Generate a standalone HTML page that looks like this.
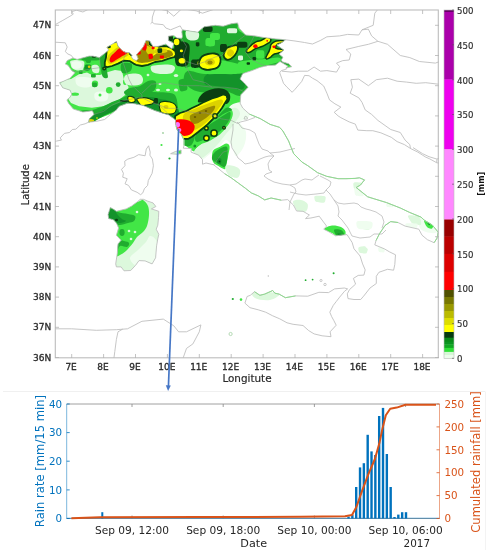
<!DOCTYPE html>
<html><head><meta charset="utf-8"><style>
html,body{margin:0;padding:0;background:#fff;width:500px;height:550px;overflow:hidden}
svg{display:block}
text{font-family:'DejaVu Sans', 'Liberation Sans', sans-serif}
</style></head><body>
<svg width="500" height="550" viewBox="0 0 500 550">
<defs><clipPath id="mc"><rect x="55" y="10" width="384" height="348"/></clipPath></defs>

<g clip-path="url(#mc)">
<defs><clipPath id="land"><path d="M88.6,122.2 L96.6,121.3 L104.6,119.5 L110.6,114.4 L116.4,109.9 L118.9,106.5 L127.5,103.2 L133.3,103.5 L139.3,104.7 L142.8,105.3 L148.3,107.7 L154.6,110.5 L162.0,112.9 L168.7,115.0 L175.4,119.8 L176.0,125.9 L177.0,129.5 L181.4,134.6 L184.0,140.1 L184.0,145.5 L183.3,148.2 L191.3,148.5 L191.0,152.1 L198.7,155.2 L202.5,159.7 L202.5,164.2 L206.0,163.0 L213.7,164.8 L224.5,173.6 L231.2,177.8 L238.5,183.2 L245.6,188.4 L251.3,192.9 L258.3,195.9 L264.7,199.9 L271.1,198.0 L281.3,200.2 L287.7,199.6 L293.4,205.0 L296.6,211.0 L303.0,211.3 L309.4,215.0 L305.5,218.6 L310.9,218.0 L319.2,216.2 L326.6,226.1 L323.7,229.2 L328.5,231.6 L335.5,235.8 L341.3,235.2 L347.0,234.6 L352.1,242.4 L354.0,248.8 L360.1,256.0 L362.6,263.9 L365.2,269.9 L363.9,275.1 L358.2,275.4 L353.4,278.4 L355.6,284.1 L349.5,289.6 L347.3,293.8 L348.0,298.6 L354.0,299.5 L360.7,299.5 L363.6,296.2 L370.0,288.0 L376.3,283.5 L376.3,276.3 L378.9,272.3 L387.5,269.3 L393.6,270.2 L394.8,264.5 L395.5,254.8 L389.4,251.8 L384.3,248.8 L374.8,244.9 L376.0,240.6 L379.5,233.7 L385.0,225.5 L390.7,221.6 L398.0,222.5 L405.1,226.1 L418.8,229.2 L422.0,235.2 L427.4,239.7 L434.1,242.7 L437.0,238.2 L438.2,232.2 L432.2,224.9 L424.2,220.1 L421.0,217.1 L409.8,212.5 L400.3,208.0 L386.6,202.6 L374.8,199.0 L367.7,196.8 L356.2,187.5 L360.4,185.1 L364.5,179.9 L359.4,177.8 L355.0,178.4 L346.0,178.7 L338.1,178.7 L326.6,176.3 L317.6,172.7 L307.8,165.7 L302.0,162.1 L293.7,153.7 L291.2,147.6 L288.6,141.0 L282.9,131.0 L279.7,127.4 L270.1,124.4 L260.2,118.6 L249.4,114.1 L242.7,108.0 L240.1,103.2 L240.8,94.8 L248.1,87.2 L244.0,82.7 L240.1,79.1 L242.7,73.6 L251.9,70.6 L259.3,67.6 L267.6,65.5 L275.2,65.2 L280.0,61.5 L287.7,66.1 L286.1,67.9 L288.0,67.6 L291.8,66.7 L288.6,63.7 L282.2,61.8 L281.3,60.0 L282.9,57.3 L279.1,54.0 L283.8,50.1 L276.8,44.9 L280.6,43.4 L285.7,39.8 L275.9,38.9 L263.1,37.4 L255.1,35.9 L245.6,35.0 L239.2,28.3 L237.6,22.9 L231.2,23.8 L223.2,26.2 L215.2,25.3 L204.1,26.8 L197.7,32.2 L191.3,31.3 L184.0,30.1 L182.4,29.8 L181.8,31.9 L182.4,36.5 L181.8,38.3 L177.0,38.0 L173.8,35.6 L168.4,36.2 L168.4,40.4 L173.8,43.4 L172.2,48.6 L170.6,47.9 L165.8,44.0 L157.8,46.4 L153.0,46.4 L149.9,41.0 L146.0,40.4 L143.5,46.4 L140.3,50.4 L136.5,54.6 L138.1,58.5 L136.5,60.6 L133.3,59.4 L131.0,56.4 L132.3,55.5 L129.1,52.5 L126.2,52.5 L122.7,51.0 L118.3,46.4 L116.4,41.6 L112.5,44.0 L106.8,47.3 L108.7,50.1 L104.6,53.4 L99.5,57.6 L92.8,56.1 L89.2,56.1 L77.1,59.4 L73.0,57.9 L67.2,60.6 L65.3,64.0 L67.9,65.2 L71.7,70.6 L74.9,72.7 L70.1,78.2 L63.7,81.2 L59.6,82.7 L62.8,87.8 L70.1,90.2 L71.7,94.2 L70.1,97.2 L66.9,99.9 L68.5,103.2 L73.3,109.0 L82.9,112.0 L92.4,110.8 L94.0,114.4 L89.2,118.9 L88.6,122.2 Z M140.3,199.3 L143.5,199.3 L147.6,201.1 L153.0,202.9 L155.9,206.5 L151.4,208.9 L158.8,211.3 L158.5,217.7 L157.8,225.2 L156.2,229.2 L158.8,234.3 L157.8,238.8 L156.6,245.8 L155.6,257.8 L152.1,263.9 L145.1,260.9 L139.0,260.6 L135.5,265.4 L130.7,270.5 L124.0,270.8 L121.1,266.9 L116.4,266.9 L115.7,263.9 L117.3,253.3 L118.0,243.9 L121.1,240.3 L116.4,235.2 L118.6,227.9 L116.4,223.1 L113.5,219.8 L108.7,218.6 L108.1,214.4 L110.3,207.4 L113.8,209.5 L116.4,211.3 L126.2,208.9 L131.4,206.2 L137.1,202.0 L140.3,199.3 Z M347.6,288.9 L344.4,288.0 L334.6,288.9 L328.5,292.6 L318.9,292.3 L307.8,296.2 L295.6,295.9 L285.4,297.7 L279.1,294.1 L274.9,293.2 L272.7,290.5 L264.7,294.1 L259.9,295.3 L254.5,291.7 L250.3,295.3 L247.1,296.5 L244.9,303.1 L250.0,307.7 L258.3,309.8 L265.7,312.2 L272.7,315.8 L279.7,318.8 L287.0,322.8 L293.1,324.3 L303.0,325.5 L308.7,330.6 L314.1,333.9 L322.1,335.8 L331.0,336.7 L330.1,331.8 L336.2,325.2 L333.9,320.7 L331.7,316.7 L329.8,312.2 L333.3,305.3 L336.2,301.6 L339.7,297.1 L344.4,291.4 L347.6,288.9 Z M170.6,153.7 L175.4,151.5 L181.1,150.0 L181.1,153.7 L177.0,154.3 L170.6,153.7 Z"/></clipPath></defs><g clip-path="url(#land)"><path d="M50.00,10.00 C91.67,-9.17 258.33,0.00 300.00,10.00 C341.67,20.00 306.33,59.67 300.00,70.00 C293.67,80.33 270.00,70.67 262.00,72.00 C254.00,73.33 254.00,75.00 252.00,78.00 C250.00,81.00 250.67,86.33 250.00,90.00 C249.33,93.67 249.67,97.67 248.00,100.00 C246.33,102.33 242.33,102.00 240.00,104.00 C237.67,106.00 234.67,109.00 234.00,112.00 C233.33,115.00 237.00,118.67 236.00,122.00 C235.00,125.33 230.67,129.00 228.00,132.00 C225.33,135.00 223.33,137.33 220.00,140.00 C216.67,142.67 212.00,146.00 208.00,148.00 C204.00,150.00 199.67,152.33 196.00,152.00 C192.33,151.67 189.00,148.33 186.00,146.00 C183.00,143.67 180.67,141.50 178.00,138.00 C175.33,134.50 174.67,128.00 170.00,125.00 C165.33,122.00 158.33,122.17 150.00,120.00 C141.67,117.83 131.67,111.17 120.00,112.00 C108.33,112.83 91.67,122.83 80.00,125.00 C68.33,127.17 55.00,144.17 50.00,125.00 C45.00,105.83 8.33,29.17 50.00,10.00 Z" fill="#42e646"/><path d="M233.00,104.00 C236.00,102.67 243.17,101.00 246.00,102.00 C248.83,103.00 249.67,107.33 250.00,110.00 C250.33,112.67 249.67,116.00 248.00,118.00 C246.33,120.00 240.33,119.67 240.00,122.00 C239.67,124.33 245.33,128.00 246.00,132.00 C246.67,136.00 245.67,142.00 244.00,146.00 C242.33,150.00 238.00,156.00 236.00,156.00 C234.00,156.00 233.67,148.67 232.00,146.00 C230.33,143.33 228.00,140.00 226.00,140.00 C224.00,140.00 222.67,143.67 220.00,146.00 C217.33,148.33 213.00,151.67 210.00,154.00 C207.00,156.33 204.33,159.33 202.00,160.00 C199.67,160.67 197.33,159.33 196.00,158.00 C194.67,156.67 193.33,154.17 194.00,152.00 C194.67,149.83 197.33,147.17 200.00,145.00 C202.67,142.83 206.83,141.00 210.00,139.00 C213.17,137.00 216.33,135.33 219.00,133.00 C221.67,130.67 224.00,127.67 226.00,125.00 C228.00,122.33 230.67,119.50 231.00,117.00 C231.33,114.50 227.67,112.17 228.00,110.00 C228.33,107.83 230.00,105.33 233.00,104.00 Z" fill="#effdef"/><path d="M228.00,110.00 C228.83,108.50 234.00,107.33 236.00,108.00 C238.00,108.67 240.33,111.33 240.00,114.00 C239.67,116.67 236.33,120.67 234.00,124.00 C231.67,127.33 228.67,130.67 226.00,134.00 C223.33,137.33 220.67,141.00 218.00,144.00 C215.33,147.00 212.67,149.67 210.00,152.00 C207.33,154.33 204.33,157.00 202.00,158.00 C199.67,159.00 197.33,159.00 196.00,158.00 C194.67,157.00 193.33,154.17 194.00,152.00 C194.67,149.83 197.33,147.17 200.00,145.00 C202.67,142.83 206.83,141.00 210.00,139.00 C213.17,137.00 216.33,135.33 219.00,133.00 C221.67,130.67 224.00,127.67 226.00,125.00 C228.00,122.33 230.67,119.50 231.00,117.00 C231.33,114.50 227.17,111.50 228.00,110.00 Z" fill="#dcf8dc"/><path d="M196.00,129.20 C197.60,127.07 200.80,127.60 204.00,126.00 C207.20,124.40 211.73,121.73 215.20,119.60 C218.67,117.47 222.13,114.80 224.80,113.20 C227.47,111.60 229.87,109.73 231.20,110.00 C232.53,110.27 233.07,112.67 232.80,114.80 C232.53,116.93 230.93,120.40 229.60,122.80 C228.27,125.20 226.67,127.07 224.80,129.20 C222.93,131.33 220.80,133.73 218.40,135.60 C216.00,137.47 213.07,139.07 210.40,140.40 C207.73,141.73 204.80,142.40 202.40,143.60 C200.00,144.80 197.60,146.80 196.00,147.60 C194.40,148.40 193.60,148.80 192.80,148.40 C192.00,148.00 190.93,146.80 191.20,145.20 C191.47,143.60 193.60,141.47 194.40,138.80 C195.20,136.13 194.40,131.33 196.00,129.20 Z" fill="#42e646"/><path d="M198.00,130.00 C199.67,128.17 202.17,128.50 205.00,127.00 C207.83,125.50 211.83,123.00 215.00,121.00 C218.17,119.00 221.50,116.50 224.00,115.00 C226.50,113.50 229.00,111.50 230.00,112.00 C231.00,112.50 230.67,115.83 230.00,118.00 C229.33,120.17 227.83,122.67 226.00,125.00 C224.17,127.33 221.50,130.00 219.00,132.00 C216.50,134.00 213.67,135.67 211.00,137.00 C208.33,138.33 205.33,139.17 203.00,140.00 C200.67,140.83 198.33,142.33 197.00,142.00 C195.67,141.67 194.83,140.00 195.00,138.00 C195.17,136.00 196.33,131.83 198.00,130.00 Z" fill="#20ac2f"/><ellipse cx="194.8" cy="146" rx="1.4" ry="1.6" fill="#13922a"/><path d="M213.60,150.00 C214.93,148.40 217.87,147.87 220.00,146.80 C222.13,145.73 224.80,143.60 226.40,143.60 C228.00,143.60 229.33,144.67 229.60,146.80 C229.87,148.93 228.53,153.47 228.00,156.40 C227.47,159.33 226.93,162.27 226.40,164.40 C225.87,166.53 226.13,168.93 224.80,169.20 C223.47,169.47 220.27,167.07 218.40,166.00 C216.53,164.93 214.67,164.40 213.60,162.80 C212.53,161.20 212.00,158.53 212.00,156.40 C212.00,154.27 212.27,151.60 213.60,150.00 Z" fill="#42e646"/><path d="M214.00,153.00 C215.50,151.17 218.83,149.00 221.00,148.00 C223.17,147.00 225.92,145.83 227.00,147.00 C228.08,148.17 227.58,152.33 227.50,155.00 C227.42,157.67 227.08,161.00 226.50,163.00 C225.92,165.00 225.58,167.00 224.00,167.00 C222.42,167.00 219.00,164.33 217.00,163.00 C215.00,161.67 212.50,160.67 212.00,159.00 C211.50,157.33 212.50,154.83 214.00,153.00 Z" fill="#20ac2f"/><path d="M217.16,158.48 C217.54,158.06 218.52,158.18 219.20,158.25 C219.88,158.32 220.89,158.37 221.24,158.91 C221.59,159.44 221.39,160.61 221.30,161.45 C221.22,162.29 221.11,163.50 220.73,163.92 C220.35,164.34 219.57,164.08 219.00,163.95 C218.43,163.82 217.68,163.69 217.33,163.16 C216.98,162.62 216.93,161.53 216.90,160.75 C216.87,159.97 216.78,158.90 217.16,158.48 Z" fill="#13922a"/><ellipse cx="219.5" cy="161.5" rx="0.9" ry="0.9" fill="#0a3f12"/><path d="M70.60,61.00 C71.67,60.33 74.80,59.92 77.00,60.00 C79.20,60.08 82.63,60.50 83.80,61.50 C84.97,62.50 84.22,64.58 84.00,66.00 C83.78,67.42 83.67,69.27 82.50,70.00 C81.33,70.73 78.75,70.73 77.00,70.40 C75.25,70.07 73.07,69.07 72.00,68.00 C70.93,66.93 70.83,65.17 70.60,64.00 C70.37,62.83 69.53,61.67 70.60,61.00 Z" fill="#dcf8dc"/><path d="M92.00,65.60 C92.83,64.77 95.77,64.60 97.00,65.00 C98.23,65.40 99.15,66.70 99.40,68.00 C99.65,69.30 99.40,72.00 98.50,72.80 C97.60,73.60 95.08,73.27 94.00,72.80 C92.92,72.33 92.33,71.20 92.00,70.00 C91.67,68.80 91.17,66.43 92.00,65.60 Z" fill="#dcf8dc"/><path d="M59.8,83.8 L64,80 L71,79 L79,74.2 L87,72.6 L92,75 L100,75 L108,72 L115,70 L122,71 L123.8,79 L128.6,87 L127,93.4 L119,99.8 L111,103 L103,106.2 L91.8,107.8 L79,106.2 L71,103 L67.8,98.2 L69.4,93.4 L64.6,90.2 Z" fill="#dcf8dc"/><path d="M151.00,66.50 C152.00,65.42 155.50,65.33 158.00,65.00 C160.50,64.67 163.50,64.42 166.00,64.50 C168.50,64.58 171.50,64.83 173.00,65.50 C174.50,66.17 175.17,67.25 175.00,68.50 C174.83,69.75 173.67,72.08 172.00,73.00 C170.33,73.92 167.50,73.92 165.00,74.00 C162.50,74.08 159.17,73.92 157.00,73.50 C154.83,73.08 153.00,72.67 152.00,71.50 C151.00,70.33 150.00,67.58 151.00,66.50 Z" fill="#dcf8dc"/><ellipse cx="176" cy="75.5" rx="2.2" ry="1.6" fill="#dcf8dc"/><ellipse cx="148" cy="75" rx="1.4" ry="1.2" fill="#dcf8dc"/><path d="M95.00,93.00 C96.17,91.75 99.83,91.42 102.00,91.50 C104.17,91.58 107.17,92.08 108.00,93.50 C108.83,94.92 108.33,98.67 107.00,100.00 C105.67,101.33 102.00,101.67 100.00,101.50 C98.00,101.33 95.83,100.42 95.00,99.00 C94.17,97.58 93.83,94.25 95.00,93.00 Z" fill="#effdef"/><path d="M76.00,78.00 C77.17,76.67 81.33,76.83 84.00,77.00 C86.67,77.17 90.83,77.50 92.00,79.00 C93.17,80.50 92.33,84.58 91.00,86.00 C89.67,87.42 86.33,87.67 84.00,87.50 C81.67,87.33 78.33,86.58 77.00,85.00 C75.67,83.42 74.83,79.33 76.00,78.00 Z" fill="#effdef"/><path d="M72.00,62.00 C73.00,60.92 77.33,61.00 79.00,61.50 C80.67,62.00 82.00,63.83 82.00,65.00 C82.00,66.17 80.50,68.00 79.00,68.50 C77.50,69.00 74.17,69.08 73.00,68.00 C71.83,66.92 71.00,63.08 72.00,62.00 Z" fill="#effdef"/><ellipse cx="95" cy="83.8" rx="3.2" ry="3.2" fill="#42e646"/><ellipse cx="75" cy="94.2" rx="4" ry="1.6" fill="#42e646"/><ellipse cx="81" cy="72" rx="1.8" ry="1.6" fill="#42e646"/><ellipse cx="109.3" cy="90.2" rx="3.3" ry="3.2" fill="#42e646"/><ellipse cx="100" cy="95" rx="1.5" ry="1.5" fill="#42e646"/><ellipse cx="66" cy="98" rx="2" ry="2" fill="#42e646"/><ellipse cx="125" cy="82" rx="2" ry="3" fill="#42e646"/><ellipse cx="118.2" cy="84.6" rx="2.4" ry="2.4" fill="#20ac2f"/><ellipse cx="87" cy="68.6" rx="3.2" ry="2.4" fill="#20ac2f"/><path d="M80.00,57.50 C80.67,56.75 85.33,56.42 88.00,56.00 C90.67,55.58 93.50,55.42 96.00,55.00 C98.50,54.58 101.33,53.17 103.00,53.50 C104.67,53.83 106.50,55.92 106.00,57.00 C105.50,58.08 102.33,59.42 100.00,60.00 C97.67,60.58 94.67,60.42 92.00,60.50 C89.33,60.58 86.00,61.00 84.00,60.50 C82.00,60.00 79.33,58.25 80.00,57.50 Z" fill="#20ac2f"/><ellipse cx="94" cy="56.5" rx="2.5" ry="1.2" fill="#0a3f12"/><path d="M85.45,57.45 C85.87,56.95 87.15,57.00 88.00,57.00 C88.85,57.00 90.05,56.95 90.55,57.45 C91.05,57.95 91.00,59.15 91.00,60.00 C91.00,60.85 90.97,62.05 90.55,62.55 C90.13,63.05 89.21,63.00 88.50,63.00 C87.79,63.00 86.80,63.05 86.30,62.55 C85.80,62.05 85.64,60.85 85.50,60.00 C85.36,59.15 85.03,57.95 85.45,57.45 Z" fill="#20ac2f"/><path d="M100.60,54.00 C101.60,52.33 104.80,51.00 106.00,52.00 C107.20,53.00 107.63,57.00 107.80,60.00 C107.97,63.00 107.00,67.07 107.00,70.00 C107.00,72.93 108.47,76.43 107.80,77.60 C107.13,78.77 104.13,78.27 103.00,77.00 C101.87,75.73 101.50,72.50 101.00,70.00 C100.50,67.50 100.07,64.67 100.00,62.00 C99.93,59.33 99.60,55.67 100.60,54.00 Z" fill="#20ac2f"/><path d="M91.36,74.27 C91.76,73.97 92.72,74.00 93.40,74.00 C94.08,74.00 95.04,73.97 95.44,74.27 C95.84,74.57 95.80,75.29 95.80,75.80 C95.80,76.31 95.84,77.03 95.44,77.33 C95.04,77.63 94.08,77.60 93.40,77.60 C92.72,77.60 91.76,77.63 91.36,77.33 C90.96,77.03 91.00,76.31 91.00,75.80 C91.00,75.29 90.96,74.57 91.36,74.27 Z" fill="#20ac2f"/><path d="M79.27,70.67 C79.57,70.37 80.29,70.40 80.80,70.40 C81.31,70.40 82.03,70.37 82.33,70.67 C82.63,70.97 82.60,71.69 82.60,72.20 C82.60,72.71 82.63,73.43 82.33,73.73 C82.03,74.03 81.31,74.00 80.80,74.00 C80.29,74.00 79.57,74.03 79.27,73.73 C78.97,73.43 79.00,72.71 79.00,72.20 C79.00,71.69 78.97,70.97 79.27,70.67 Z" fill="#20ac2f"/><path d="M92.56,82.76 C92.96,82.36 93.92,82.40 94.60,82.40 C95.28,82.40 96.24,82.36 96.64,82.76 C97.04,83.16 97.00,84.12 97.00,84.80 C97.00,85.48 97.04,86.44 96.64,86.84 C96.24,87.24 95.28,87.20 94.60,87.20 C93.92,87.20 92.96,87.24 92.56,86.84 C92.16,86.44 92.20,85.48 92.20,84.80 C92.20,84.12 92.16,83.16 92.56,82.76 Z" fill="#20ac2f"/><path d="M121.60,63.60 C123.20,62.20 129.60,62.53 131.20,63.60 C132.80,64.67 132.07,68.40 131.20,70.00 C130.33,71.60 127.60,72.87 126.00,73.20 C124.40,73.53 122.33,73.60 121.60,72.00 C120.87,70.40 120.00,65.00 121.60,63.60 Z" fill="#20ac2f"/><path d="M85.45,64.76 C85.95,64.36 87.15,64.40 88.00,64.40 C88.85,64.40 90.05,64.36 90.55,64.76 C91.05,65.16 91.00,66.12 91.00,66.80 C91.00,67.48 91.05,68.44 90.55,68.84 C90.05,69.24 88.85,69.20 88.00,69.20 C87.15,69.20 85.95,69.24 85.45,68.84 C84.95,68.44 85.00,67.48 85.00,66.80 C85.00,66.12 84.95,65.16 85.45,64.76 Z" fill="#13922a"/><ellipse cx="89.2" cy="66.8" rx="1.4" ry="1.2" fill="#dcd200"/><path d="M80.00,112.00 C81.33,109.33 88.00,111.00 92.00,110.00 C96.00,109.00 100.67,107.33 104.00,106.00 C107.33,104.67 109.33,103.17 112.00,102.00 C114.67,100.83 117.33,100.17 120.00,99.00 C122.67,97.83 125.33,96.08 128.00,95.00 C130.67,93.92 132.33,93.00 136.00,92.50 C139.67,92.00 144.33,91.92 150.00,92.00 C155.67,92.08 165.67,92.17 170.00,93.00 C174.33,93.83 174.67,94.17 176.00,97.00 C177.33,99.83 177.67,105.33 178.00,110.00 C178.33,114.67 181.00,123.67 178.00,125.00 C175.00,126.33 169.67,120.50 160.00,118.00 C150.33,115.50 132.67,108.67 120.00,110.00 C107.33,111.33 90.67,125.67 84.00,126.00 C77.33,126.33 78.67,114.67 80.00,112.00 Z" fill="#20ac2f"/><path d="M84.00,122.00 C85.33,120.33 88.67,118.00 92.00,116.00 C95.33,114.00 100.33,111.83 104.00,110.00 C107.67,108.17 110.67,106.50 114.00,105.00 C117.33,103.50 120.33,102.17 124.00,101.00 C127.67,99.83 131.67,98.67 136.00,98.00 C140.33,97.33 146.00,96.83 150.00,97.00 C154.00,97.17 156.67,98.33 160.00,99.00 C163.33,99.67 167.00,99.50 170.00,101.00 C173.00,102.50 176.67,104.00 178.00,108.00 C179.33,112.00 181.00,123.33 178.00,125.00 C175.00,126.67 169.67,120.50 160.00,118.00 C150.33,115.50 132.67,108.67 120.00,110.00 C107.33,111.33 90.00,124.00 84.00,126.00 C78.00,128.00 82.67,123.67 84.00,122.00 Z" fill="#13922a"/><path d="M120.60,100.15 C121.27,99.98 122.87,100.00 124.00,100.00 C125.13,100.00 126.73,99.98 127.40,100.15 C128.07,100.32 128.00,100.72 128.00,101.00 C128.00,101.28 128.07,101.68 127.40,101.85 C126.73,102.02 125.13,102.00 124.00,102.00 C122.87,102.00 121.27,102.02 120.60,101.85 C119.93,101.68 120.00,101.28 120.00,101.00 C120.00,100.72 119.93,100.32 120.60,100.15 Z" fill="#0a3f12"/><path d="M154.30,98.45 C154.63,97.95 155.43,98.00 156.00,98.00 C156.57,98.00 157.37,97.95 157.70,98.45 C158.03,98.95 158.00,100.15 158.00,101.00 C158.00,101.85 158.03,103.05 157.70,103.55 C157.37,104.05 156.57,104.00 156.00,104.00 C155.43,104.00 154.63,104.05 154.30,103.55 C153.97,103.05 154.00,101.85 154.00,101.00 C154.00,100.15 153.97,98.95 154.30,98.45 Z" fill="#0a3f12"/><path d="M186.00,72.00 C187.83,70.25 191.00,69.92 195.00,69.50 C199.00,69.08 204.50,69.42 210.00,69.50 C215.50,69.58 223.00,69.75 228.00,70.00 C233.00,70.25 237.00,70.33 240.00,71.00 C243.00,71.67 244.67,70.83 246.00,74.00 C247.33,77.17 249.00,86.33 248.00,90.00 C247.00,93.67 243.33,95.67 240.00,96.00 C236.67,96.33 232.17,92.67 228.00,92.00 C223.83,91.33 219.67,92.00 215.00,92.00 C210.33,92.00 204.17,92.67 200.00,92.00 C195.83,91.33 192.67,90.00 190.00,88.00 C187.33,86.00 184.67,82.67 184.00,80.00 C183.33,77.33 184.17,73.75 186.00,72.00 Z" fill="#20ac2f"/><path d="M205.00,76.00 C207.00,73.83 211.00,71.83 217.00,71.00 C223.00,70.17 236.50,68.17 241.00,71.00 C245.50,73.83 245.83,85.17 244.00,88.00 C242.17,90.83 234.83,88.33 230.00,88.00 C225.17,87.67 219.17,86.67 215.00,86.00 C210.83,85.33 206.67,85.67 205.00,84.00 C203.33,82.33 203.00,78.17 205.00,76.00 Z" fill="#13922a"/><path d="M130.00,88.00 C132.67,87.00 137.00,87.17 140.00,86.00 C143.00,84.83 145.47,81.83 148.00,81.00 C150.53,80.17 153.87,80.00 155.20,81.00 C156.53,82.00 156.53,85.17 156.00,87.00 C155.47,88.83 154.67,90.67 152.00,92.00 C149.33,93.33 144.00,94.33 140.00,95.00 C136.00,95.67 130.67,96.50 128.00,96.00 C125.33,95.50 123.67,93.33 124.00,92.00 C124.33,90.67 127.33,89.00 130.00,88.00 Z" fill="#20ac2f"/><path d="M126.00,75.00 C127.50,74.08 130.67,73.58 133.00,73.50 C135.33,73.42 138.33,73.58 140.00,74.50 C141.67,75.42 142.83,77.42 143.00,79.00 C143.17,80.58 142.67,82.92 141.00,84.00 C139.33,85.08 135.50,85.50 133.00,85.50 C130.50,85.50 127.50,85.08 126.00,84.00 C124.50,82.92 124.00,80.50 124.00,79.00 C124.00,77.50 124.50,75.92 126.00,75.00 Z" fill="#dcf8dc"/><path d="M178.75,80.75 C179.25,79.58 180.87,79.28 182.00,79.00 C183.13,78.72 184.72,78.22 185.55,79.05 C186.38,79.88 186.72,82.30 187.00,84.00 C187.28,85.70 187.75,88.08 187.25,89.25 C186.75,90.42 185.13,90.72 184.00,91.00 C182.87,91.28 181.28,91.78 180.45,90.95 C179.62,90.12 179.28,87.70 179.00,86.00 C178.72,84.30 178.25,81.92 178.75,80.75 Z" fill="#20ac2f"/><ellipse cx="158" cy="90" rx="2" ry="1.2" fill="#dcf8dc"/><ellipse cx="168" cy="90" rx="2" ry="1.2" fill="#dcf8dc"/><ellipse cx="160" cy="84" rx="1.5" ry="1" fill="#dcf8dc"/><ellipse cx="176" cy="90" rx="2" ry="1.5" fill="#dcf8dc"/><path d="M180,29.6 L186,29 L195,30.8 L200.6,28.4 L205.4,26 L211.4,24.8 L220.2,24 L235.5,22.3 L238,24 L237.2,28.2 L239.8,31.6 L245.7,35 L257.6,36.7 L266,37.6 L276.3,38.4 L283,39.3 L290,50 L292,66 L280,64 L268,65.6 L259,67.3 L252,69 L244,70 L236,68 L225,66 L215,72 L205,72 L195,70 L186,68 L180,64 L176,56 L178,45 L176,36 Z" fill="#20ac2f"/><path d="M185.99,31.43 C187.01,30.75 189.73,30.87 191.60,30.90 C193.47,30.93 196.13,30.90 197.21,31.60 C198.29,32.30 198.13,33.94 198.10,35.10 C198.07,36.26 198.06,37.89 197.04,38.57 C196.02,39.25 193.70,39.20 192.00,39.20 C190.30,39.20 187.92,39.27 186.84,38.57 C185.76,37.87 185.64,36.19 185.50,35.00 C185.36,33.81 184.97,32.11 185.99,31.43 Z" fill="#42e646"/><path d="M186.00,31.00 C187.00,29.67 190.87,30.17 193.00,30.50 C195.13,30.83 197.97,31.58 198.80,33.00 C199.63,34.42 199.13,37.73 198.00,39.00 C196.87,40.27 193.83,40.68 192.00,40.60 C190.17,40.52 188.00,40.10 187.00,38.50 C186.00,36.90 185.00,32.33 186.00,31.00 Z" fill="#dcf8dc"/><path d="M206.12,38.63 C206.92,37.93 208.84,38.00 210.20,38.00 C211.56,38.00 213.48,37.93 214.28,38.63 C215.08,39.33 215.00,41.01 215.00,42.20 C215.00,43.39 215.08,45.07 214.28,45.77 C213.48,46.47 211.56,46.40 210.20,46.40 C208.84,46.40 206.92,46.47 206.12,45.77 C205.32,45.07 205.40,43.39 205.40,42.20 C205.40,41.01 205.32,39.33 206.12,38.63 Z" fill="#42e646"/><path d="M210.75,33.52 C211.58,32.94 213.58,33.00 215.00,33.00 C216.42,33.00 218.42,32.94 219.25,33.52 C220.08,34.11 220.00,35.51 220.00,36.50 C220.00,37.49 220.08,38.89 219.25,39.48 C218.42,40.06 216.42,40.00 215.00,40.00 C213.58,40.00 211.58,40.06 210.75,39.48 C209.92,38.89 210.00,37.49 210.00,36.50 C210.00,35.51 209.92,34.11 210.75,33.52 Z" fill="#42e646"/><path d="M227.76,28.58 C228.61,28.16 230.66,28.20 232.10,28.20 C233.54,28.20 235.59,28.16 236.44,28.58 C237.28,29.01 237.20,30.03 237.20,30.75 C237.20,31.47 237.28,32.49 236.44,32.92 C235.59,33.34 233.54,33.30 232.10,33.30 C230.66,33.30 228.61,33.34 227.76,32.92 C226.91,32.49 227.00,31.47 227.00,30.75 C227.00,30.03 226.91,29.01 227.76,28.58 Z" fill="#dcf8dc"/><path d="M238.38,55.78 C238.79,55.36 239.79,55.40 240.50,55.40 C241.21,55.40 242.21,55.36 242.62,55.78 C243.04,56.21 243.00,57.23 243.00,57.95 C243.00,58.67 243.04,59.69 242.62,60.12 C242.21,60.54 241.21,60.50 240.50,60.50 C239.79,60.50 238.79,60.54 238.38,60.12 C237.96,59.69 238.00,58.67 238.00,57.95 C238.00,57.23 237.96,56.21 238.38,55.78 Z" fill="#dcf8dc"/><path d="M256.63,50.94 C257.33,50.23 259.01,50.30 260.20,50.30 C261.39,50.30 263.07,50.23 263.77,50.94 C264.47,51.65 264.40,53.35 264.40,54.55 C264.40,55.75 264.47,57.45 263.77,58.16 C263.07,58.87 261.39,58.80 260.20,58.80 C259.01,58.80 257.33,58.87 256.63,58.16 C255.93,57.45 256.00,55.75 256.00,54.55 C256.00,53.35 255.93,51.65 256.63,50.94 Z" fill="#42e646"/><path d="M216.80,60.50 C224.13,59.50 225.47,61.08 230.00,62.00 C234.53,62.92 241.33,64.33 244.00,66.00 C246.67,67.67 247.33,70.67 246.00,72.00 C244.67,73.33 240.33,73.67 236.00,74.00 C231.67,74.33 225.17,74.00 220.00,74.00 C214.83,74.00 209.17,74.33 205.00,74.00 C200.83,73.67 198.17,73.00 195.00,72.00 C191.83,71.00 182.37,69.92 186.00,68.00 C189.63,66.08 209.47,61.50 216.80,60.50 Z" fill="#42e646"/><path d="M238.00,63.00 C239.33,61.00 245.50,60.67 250.00,60.00 C254.50,59.33 260.33,59.42 265.00,59.00 C269.67,58.58 275.33,57.17 278.00,57.50 C280.67,57.83 282.67,59.75 281.00,61.00 C279.33,62.25 272.83,63.58 268.00,65.00 C263.17,66.42 256.33,68.33 252.00,69.50 C247.67,70.67 244.33,73.08 242.00,72.00 C239.67,70.92 236.67,65.00 238.00,63.00 Z" fill="#42e646"/><path d="M203.72,26.45 C204.52,25.95 206.44,26.00 207.80,26.00 C209.16,26.00 211.08,25.95 211.88,26.45 C212.68,26.95 212.60,28.15 212.60,29.00 C212.60,29.85 212.68,31.05 211.88,31.55 C211.08,32.05 209.16,32.00 207.80,32.00 C206.44,32.00 204.52,32.05 203.72,31.55 C202.92,31.05 203.00,29.85 203.00,29.00 C203.00,28.15 202.92,26.95 203.72,26.45 Z" fill="#0a3f12"/><path d="M196.07,42.52 C196.37,42.16 197.09,42.20 197.60,42.20 C198.11,42.20 198.83,42.16 199.13,42.52 C199.43,42.87 199.40,43.70 199.40,44.30 C199.40,44.89 199.43,45.73 199.13,46.09 C198.83,46.44 198.11,46.40 197.60,46.40 C197.09,46.40 196.37,46.44 196.07,46.09 C195.77,45.73 195.80,44.89 195.80,44.30 C195.80,43.70 195.77,42.87 196.07,42.52 Z" fill="#0a3f12"/><path d="M220.53,44.60 C221.11,43.93 222.51,44.00 223.50,44.00 C224.49,44.00 225.89,43.93 226.47,44.60 C227.06,45.27 227.00,46.87 227.00,48.00 C227.00,49.13 227.06,50.73 226.47,51.40 C225.89,52.07 224.49,52.00 223.50,52.00 C222.51,52.00 221.11,52.07 220.53,51.40 C219.94,50.73 220.00,49.13 220.00,48.00 C220.00,46.87 219.94,45.27 220.53,44.60 Z" fill="#0a3f12"/><path d="M237.78,42.25 C238.65,41.75 240.73,41.80 242.20,41.80 C243.67,41.80 245.75,41.75 246.62,42.25 C247.49,42.75 247.40,43.95 247.40,44.80 C247.40,45.65 247.49,46.85 246.62,47.35 C245.75,47.85 243.67,47.80 242.20,47.80 C240.73,47.80 238.65,47.85 237.78,47.35 C236.91,46.85 237.00,45.65 237.00,44.80 C237.00,43.95 236.91,42.75 237.78,42.25 Z" fill="#0a3f12"/><path d="M252.76,57.26 C253.05,56.97 253.75,57.00 254.25,57.00 C254.75,57.00 255.45,56.97 255.74,57.26 C256.03,57.55 256.00,58.25 256.00,58.75 C256.00,59.25 256.03,59.95 255.74,60.24 C255.45,60.53 254.75,60.50 254.25,60.50 C253.75,60.50 253.05,60.53 252.76,60.24 C252.47,59.95 252.50,59.25 252.50,58.75 C252.50,58.25 252.47,57.55 252.76,57.26 Z" fill="#0a3f12"/><path d="M246.85,62.40 C247.14,62.18 247.82,62.20 248.30,62.20 C248.78,62.20 249.46,62.18 249.75,62.40 C250.03,62.61 250.00,63.13 250.00,63.50 C250.00,63.87 250.03,64.39 249.75,64.61 C249.46,64.82 248.78,64.80 248.30,64.80 C247.82,64.80 247.14,64.82 246.85,64.61 C246.57,64.39 246.60,63.87 246.60,63.50 C246.60,63.13 246.57,62.61 246.85,62.40 Z" fill="#0a3f12"/><path d="M166.53,34.57 C167.11,33.94 168.51,34.00 169.50,34.00 C170.49,34.00 171.89,33.94 172.47,34.57 C173.06,35.20 173.00,36.72 173.00,37.80 C173.00,38.88 173.06,40.40 172.47,41.03 C171.89,41.66 170.49,41.60 169.50,41.60 C168.51,41.60 167.11,41.66 166.53,41.03 C165.94,40.40 166.00,38.88 166.00,37.80 C166.00,36.72 165.94,35.20 166.53,34.57 Z" fill="#0a3f12"/><path d="M175.40,42.80 C177.67,40.13 186.33,41.47 188.60,44.00 C190.87,46.53 189.27,54.40 189.00,58.00 C188.73,61.60 188.83,64.27 187.00,65.60 C185.17,66.93 180.00,66.93 178.00,66.00 C176.00,65.07 175.43,63.87 175.00,60.00 C174.57,56.13 173.13,45.47 175.40,42.80 Z" fill="#0a3f12"/><path d="M191.63,60.23 C192.33,59.53 194.01,59.60 195.20,59.60 C196.39,59.60 198.07,59.53 198.77,60.23 C199.47,60.93 199.40,62.61 199.40,63.80 C199.40,64.99 199.47,66.67 198.77,67.37 C198.07,68.07 196.39,68.00 195.20,68.00 C194.01,68.00 192.33,68.07 191.63,67.37 C190.93,66.67 191.00,64.99 191.00,63.80 C191.00,62.61 190.93,60.93 191.63,60.23 Z" fill="#0a3f12"/><path d="M105.4,46.8 L108.4,44.4 L112,42 L116.8,41 L118,42 L118.6,45.6 L119.2,48 L122.8,50.4 L126.4,51.6 L128.8,52.8 L131.2,55.2 L133.6,57.6 L136,59.4 L136,55.2 L138.4,50.4 L142,45.6 L143.8,41.4 L145.6,40.2 L149.2,40.8 L149.8,44.4 L151.6,45.6 L155.2,45 L158.8,46.8 L163,46 L167,46.4 L171.8,48.2 L175.4,51.2 L176,54.8 L174.2,57.2 L169.4,58.4 L162.2,60.8 L155,62 L148,64.8 L142,66 L136,64.8 L133.6,63.6 L130,61.2 L124,60.6 L118,63.6 L112,66 L107.2,67.2 L104.8,66 L104.8,62.4 L106,57.6 L106.6,51.6 Z" fill="#ffff00" stroke="#0a3f12" stroke-width="1.8" stroke-linejoin="round"/><path d="M112.42,42.23 C112.75,42.03 113.61,41.84 114.25,41.70 C114.89,41.56 115.78,41.35 116.25,41.38 C116.71,41.41 116.89,41.70 117.05,41.90 C117.21,42.10 117.51,42.37 117.18,42.57 C116.85,42.77 115.77,42.96 115.05,43.10 C114.33,43.24 113.31,43.45 112.84,43.42 C112.38,43.39 112.32,43.10 112.25,42.90 C112.18,42.70 112.09,42.43 112.42,42.23 Z" fill="#0a3f12"/><path d="M107.47,46.15 C107.74,45.92 108.49,45.86 109.00,45.80 C109.51,45.74 110.23,45.64 110.53,45.81 C110.83,45.98 110.80,46.46 110.80,46.80 C110.80,47.14 110.80,47.62 110.53,47.85 C110.26,48.08 109.65,48.14 109.20,48.20 C108.75,48.26 108.11,48.36 107.81,48.19 C107.51,48.02 107.46,47.54 107.40,47.20 C107.34,46.86 107.20,46.38 107.47,46.15 Z" fill="#0a3f12"/><path d="M107.00,60.00 C106.75,58.50 107.50,56.50 108.50,55.00 C109.50,53.50 111.58,52.25 113.00,51.00 C114.42,49.75 115.67,48.20 117.00,47.50 C118.33,46.80 119.67,46.47 121.00,46.80 C122.33,47.13 123.67,48.72 125.00,49.50 C126.33,50.28 128.50,50.50 129.00,51.50 C129.50,52.50 129.17,54.33 128.00,55.50 C126.83,56.67 124.00,57.50 122.00,58.50 C120.00,59.50 118.00,60.58 116.00,61.50 C114.00,62.42 111.50,64.25 110.00,64.00 C108.50,63.75 107.25,61.50 107.00,60.00 Z" fill="#dcd200"/><path d="M109.60,60.00 C109.60,59.00 110.00,57.60 110.80,56.40 C111.60,55.20 113.20,54.00 114.40,52.80 C115.60,51.60 116.90,50.00 118.00,49.20 C119.10,48.40 120.00,47.80 121.00,48.00 C122.00,48.20 122.90,49.80 124.00,50.40 C125.10,51.00 127.20,51.00 127.60,51.60 C128.00,52.20 127.40,53.20 126.40,54.00 C125.40,54.80 123.00,55.60 121.60,56.40 C120.20,57.20 119.40,57.90 118.00,58.80 C116.60,59.70 114.40,61.20 113.20,61.80 C112.00,62.40 111.40,62.70 110.80,62.40 C110.20,62.10 109.60,61.00 109.60,60.00 Z" fill="#ff0000"/><path d="M135.50,58.00 C135.67,56.83 136.42,55.33 137.00,54.00 C137.58,52.67 138.17,51.33 139.00,50.00 C139.83,48.67 141.17,47.33 142.00,46.00 C142.83,44.67 143.33,42.83 144.00,42.00 C144.67,41.17 145.23,41.07 146.00,41.00 C146.77,40.93 148.10,40.85 148.60,41.60 C149.10,42.35 148.60,44.60 149.00,45.50 C149.40,46.40 150.83,45.92 151.00,47.00 C151.17,48.08 149.83,50.50 150.00,52.00 C150.17,53.50 151.00,55.67 152.00,56.00 C153.00,56.33 155.00,54.67 156.00,54.00 C157.00,53.33 156.33,52.67 158.00,52.00 C159.67,51.33 163.83,50.17 166.00,50.00 C168.17,49.83 169.83,50.17 171.00,51.00 C172.17,51.83 173.50,53.92 173.00,55.00 C172.50,56.08 170.17,56.75 168.00,57.50 C165.83,58.25 162.67,58.88 160.00,59.50 C157.33,60.12 154.33,60.68 152.00,61.20 C149.67,61.72 148.00,62.33 146.00,62.60 C144.00,62.87 141.67,63.07 140.00,62.80 C138.33,62.53 136.75,61.80 136.00,61.00 C135.25,60.20 135.33,59.17 135.50,58.00 Z" fill="#9a8c00"/><path d="M146.00,46.00 C146.83,45.17 150.50,47.00 152.00,48.00 C153.50,49.00 155.00,50.83 155.00,52.00 C155.00,53.17 153.33,54.83 152.00,55.00 C150.67,55.17 148.00,54.50 147.00,53.00 C146.00,51.50 145.17,46.83 146.00,46.00 Z" fill="#dcd200"/><path d="M155.00,50.00 C155.83,49.25 158.17,48.67 160.00,48.50 C161.83,48.33 164.83,48.42 166.00,49.00 C167.17,49.58 168.00,51.25 167.00,52.00 C166.00,52.75 162.00,53.33 160.00,53.50 C158.00,53.67 155.83,53.58 155.00,53.00 C154.17,52.42 154.17,50.75 155.00,50.00 Z" fill="#dcd200"/><path d="M136.36,51.27 C136.73,50.97 137.72,51.00 138.40,51.00 C139.08,51.00 140.04,50.97 140.44,51.27 C140.84,51.57 140.80,52.29 140.80,52.80 C140.80,53.31 140.81,54.03 140.44,54.33 C140.07,54.63 139.22,54.60 138.60,54.60 C137.98,54.60 137.10,54.63 136.70,54.33 C136.30,54.03 136.26,53.31 136.20,52.80 C136.14,52.29 135.99,51.57 136.36,51.27 Z" fill="#ff0000"/><path d="M142.60,44.50 C143.13,43.47 144.90,42.78 145.60,43.20 C146.30,43.62 146.80,45.80 146.80,47.00 C146.80,48.20 146.33,50.00 145.60,50.40 C144.87,50.80 142.90,50.38 142.40,49.40 C141.90,48.42 142.07,45.53 142.60,44.50 Z" fill="#ff0000"/><path d="M148.59,54.53 C148.87,54.03 149.71,53.91 150.30,53.80 C150.90,53.69 151.73,53.50 152.16,53.85 C152.59,54.20 152.76,55.19 152.90,55.90 C153.04,56.61 153.29,57.60 153.01,58.10 C152.73,58.60 151.82,58.76 151.20,58.90 C150.58,59.04 149.70,59.30 149.27,58.95 C148.84,58.60 148.71,57.54 148.60,56.80 C148.49,56.06 148.31,55.03 148.59,54.53 Z" fill="#ff0000"/><path d="M151.82,46.43 C152.07,46.18 152.67,46.20 153.10,46.20 C153.53,46.20 154.12,46.18 154.38,46.43 C154.62,46.68 154.60,47.28 154.60,47.70 C154.60,48.12 154.62,48.73 154.38,48.98 C154.12,49.23 153.53,49.20 153.10,49.20 C152.67,49.20 152.07,49.23 151.82,48.98 C151.57,48.73 151.60,48.12 151.60,47.70 C151.60,47.28 151.57,46.68 151.82,46.43 Z" fill="#ff0000"/><path d="M160.12,55.62 C160.47,55.38 161.31,55.40 161.90,55.40 C162.50,55.40 163.34,55.38 163.69,55.62 C164.03,55.88 164.00,56.48 164.00,56.90 C164.00,57.32 164.03,57.92 163.69,58.17 C163.34,58.42 162.50,58.40 161.90,58.40 C161.31,58.40 160.47,58.42 160.12,58.17 C159.77,57.92 159.80,57.32 159.80,56.90 C159.80,56.48 159.77,55.88 160.12,55.62 Z" fill="#ff0000"/><path d="M157.76,48.73 C158.14,48.33 159.12,48.33 159.80,48.30 C160.48,48.27 161.44,48.19 161.84,48.56 C162.24,48.93 162.20,49.85 162.20,50.50 C162.20,51.15 162.22,52.07 161.84,52.47 C161.46,52.87 160.55,52.87 159.90,52.90 C159.25,52.93 158.33,53.01 157.93,52.64 C157.53,52.27 157.53,51.35 157.50,50.70 C157.47,50.05 157.38,49.13 157.76,48.73 Z" fill="#0a3f12"/><ellipse cx="176.6" cy="42" rx="3.6" ry="4" fill="#ffff00" stroke="#0a3f12" stroke-width="1.6"/><ellipse cx="181.4" cy="50.9" rx="2.4" ry="2.1" fill="#ffff00" stroke="#0a3f12" stroke-width="1.6"/><ellipse cx="182" cy="60.8" rx="4.2" ry="3.6" fill="#ffff00" stroke="#0a3f12" stroke-width="1.6"/><ellipse cx="199" cy="63.2" rx="2.3" ry="3.2" fill="#ffff00" stroke="#0a3f12" stroke-width="1.6"/><ellipse cx="104.2" cy="68.5" rx="1.3" ry="1.2" fill="#ffff00" stroke="#0a3f12" stroke-width="1.6"/><path d="M199.00,62.00 C199.33,60.25 200.50,57.83 202.00,56.50 C203.50,55.17 205.92,54.50 208.00,54.00 C210.08,53.50 212.58,53.17 214.50,53.50 C216.42,53.83 218.50,54.58 219.50,56.00 C220.50,57.42 220.83,60.08 220.50,62.00 C220.17,63.92 219.08,66.25 217.50,67.50 C215.92,68.75 213.08,69.17 211.00,69.50 C208.92,69.83 206.83,69.92 205.00,69.50 C203.17,69.08 201.00,68.25 200.00,67.00 C199.00,65.75 198.67,63.75 199.00,62.00 Z" fill="#ffff00" stroke="#0a3f12" stroke-width="1.8"/><ellipse cx="210" cy="62" rx="5" ry="3.6" fill="#dcd200"/><ellipse cx="210" cy="62.5" rx="2.6" ry="2" fill="#9a8c00"/><path d="M224.50,52.00 C225.07,50.73 225.73,48.80 227.00,47.80 C228.27,46.80 230.53,46.43 232.10,46.00 C233.67,45.57 235.42,44.90 236.40,45.20 C237.38,45.50 238.00,46.52 238.00,47.80 C238.00,49.08 237.23,51.35 236.40,52.90 C235.57,54.45 234.28,55.97 233.00,57.10 C231.72,58.23 229.98,59.42 228.70,59.70 C227.42,59.98 226.15,59.52 225.30,58.80 C224.45,58.08 223.73,56.53 223.60,55.40 C223.47,54.27 223.93,53.27 224.50,52.00 Z" fill="#ffff00" stroke="#0a3f12" stroke-width="1.8"/><ellipse cx="230.5" cy="53" rx="3.3" ry="3.6" fill="#dcd200" transform="rotate(30 230.5 53)"/><path d="M246.60,50.40 C246.97,49.67 247.88,48.62 248.80,47.60 C249.72,46.58 250.82,45.30 252.10,44.30 C253.38,43.30 255.03,42.23 256.50,41.60 C257.97,40.97 259.62,40.97 260.90,40.50 C262.18,40.03 263.28,39.35 264.20,38.80 C265.12,38.25 265.57,37.38 266.40,37.20 C267.23,37.02 268.47,37.33 269.20,37.70 C269.93,38.07 270.62,38.75 270.80,39.40 C270.98,40.05 270.75,40.97 270.30,41.60 C269.85,42.23 268.93,42.65 268.10,43.20 C267.27,43.75 266.32,44.35 265.30,44.90 C264.28,45.45 263.10,46.05 262.00,46.50 C260.90,46.95 259.80,47.23 258.70,47.60 C257.60,47.97 256.50,48.15 255.40,48.70 C254.30,49.25 253.20,50.25 252.10,50.90 C251.00,51.55 249.72,52.42 248.80,52.60 C247.88,52.78 246.97,52.37 246.60,52.00 C246.23,51.63 246.23,51.13 246.60,50.40 Z" fill="#ffff00" stroke="#0a3f12" stroke-width="1.5"/><ellipse cx="255.4" cy="46.2" rx="2.2" ry="1.9" fill="#ff0000"/><ellipse cx="267.2" cy="40.8" rx="0.9" ry="0.9" fill="#ff0000"/><path d="M265.90,57.50 C266.08,56.73 266.95,55.30 267.50,54.20 C268.05,53.10 268.73,52.00 269.20,50.90 C269.67,49.80 270.03,48.60 270.30,47.60 C270.57,46.60 270.35,45.72 270.80,44.90 C271.25,44.08 272.08,43.35 273.00,42.70 C273.92,42.05 275.02,41.37 276.30,41.00 C277.58,40.63 279.42,40.50 280.70,40.50 C281.98,40.50 283.63,40.63 284.00,41.00 C284.37,41.37 283.82,42.23 282.90,42.70 C281.98,43.17 279.60,43.35 278.50,43.80 C277.40,44.25 276.85,44.77 276.30,45.40 C275.75,46.03 275.02,47.05 275.20,47.60 C275.38,48.15 276.30,48.42 277.40,48.70 C278.50,48.98 280.78,49.02 281.80,49.30 C282.82,49.58 283.50,49.95 283.50,50.40 C283.50,50.85 282.63,51.55 281.80,52.00 C280.97,52.45 279.60,52.82 278.50,53.10 C277.40,53.38 276.12,53.42 275.20,53.70 C274.28,53.98 273.73,54.25 273.00,54.80 C272.27,55.35 271.62,56.37 270.80,57.00 C269.98,57.63 268.83,58.30 268.10,58.60 C267.37,58.90 266.77,58.98 266.40,58.80 C266.03,58.62 265.72,58.27 265.90,57.50 Z" fill="#ffff00" stroke="#0a3f12" stroke-width="1.5"/><ellipse cx="274.1" cy="46.8" rx="1.7" ry="1.4" fill="#ff0000"/><path d="M128.00,97.00 C128.50,96.10 130.83,96.27 132.00,96.60 C133.17,96.93 134.67,98.10 135.00,99.00 C135.33,99.90 135.00,101.50 134.00,102.00 C133.00,102.50 130.00,102.83 129.00,102.00 C128.00,101.17 127.50,97.90 128.00,97.00 Z" fill="#ffff00" stroke="#0a3f12" stroke-width="1.1"/><path d="M137.00,99.00 C137.83,98.10 141.83,97.60 144.00,97.60 C146.17,97.60 148.33,98.43 150.00,99.00 C151.67,99.57 153.67,100.17 154.00,101.00 C154.33,101.83 153.33,103.33 152.00,104.00 C150.67,104.67 147.67,104.67 146.00,105.00 C144.33,105.33 143.17,106.33 142.00,106.00 C140.83,105.67 139.83,104.17 139.00,103.00 C138.17,101.83 136.17,99.90 137.00,99.00 Z" fill="#ffff00" stroke="#0a3f12" stroke-width="1.1"/><path d="M159.60,103.00 C160.33,101.90 162.27,101.57 164.00,101.40 C165.73,101.23 168.17,101.48 170.00,102.00 C171.83,102.52 173.93,103.33 175.00,104.50 C176.07,105.67 176.65,107.48 176.40,109.00 C176.15,110.52 175.07,112.77 173.50,113.60 C171.93,114.43 169.00,114.18 167.00,114.00 C165.00,113.82 162.73,113.50 161.50,112.50 C160.27,111.50 159.92,109.58 159.60,108.00 C159.28,106.42 158.87,104.10 159.60,103.00 Z" fill="#ffff00" stroke="#0a3f12" stroke-width="1.1"/><ellipse cx="91" cy="120.5" rx="3" ry="1.5" fill="#dcd200"/><ellipse cx="97" cy="118" rx="0.8" ry="0.8" fill="#ffff00"/><ellipse cx="166" cy="107" rx="2.5" ry="2" fill="#dcd200"/><path d="M176.00,134.00 C177.00,133.50 182.67,139.00 186.00,139.00 C189.33,139.00 193.00,136.17 196.00,134.00 C199.00,131.83 201.00,128.33 204.00,126.00 C207.00,123.67 210.33,123.00 214.00,120.00 C217.67,117.00 223.00,109.67 226.00,108.00 C229.00,106.33 232.20,109.13 232.00,110.00 C231.80,110.87 227.60,111.60 224.80,113.20 C222.00,114.80 218.67,117.47 215.20,119.60 C211.73,121.73 207.20,124.40 204.00,126.00 C200.80,127.60 197.60,127.07 196.00,129.20 C194.40,131.33 195.20,136.13 194.40,138.80 C193.60,141.47 192.60,144.00 191.20,145.20 C189.80,146.40 187.87,146.53 186.00,146.00 C184.13,145.47 181.67,144.00 180.00,142.00 C178.33,140.00 175.00,134.50 176.00,134.00 Z" fill="#20ac2f"/><path d="M198.00,102.00 C197.17,100.75 199.83,96.08 202.00,94.00 C204.17,91.92 208.17,90.47 211.00,89.50 C213.83,88.53 216.50,88.12 219.00,88.20 C221.50,88.28 224.17,88.87 226.00,90.00 C227.83,91.13 229.42,93.17 230.00,95.00 C230.58,96.83 230.17,99.50 229.50,101.00 C228.83,102.50 227.25,104.17 226.00,104.00 C224.75,103.83 223.83,100.83 222.00,100.00 C220.17,99.17 217.50,98.75 215.00,99.00 C212.50,99.25 209.83,101.00 207.00,101.50 C204.17,102.00 198.83,103.25 198.00,102.00 Z" fill="#0a3f12"/><path d="M175.2,116 L180,113 L186,111.2 L192,108 L198,105.2 L203,102.5 L207.6,100.4 L212,98.5 L217.2,96.8 L223.2,94.4 L226.5,95.5 L227.5,99 L224.4,104 L222,108 L219.6,111.2 L216.5,115 L213.6,118.4 L210.5,121.5 L207.6,124.4 L204.5,127 L201.6,129.2 L198.5,131.8 L195.6,134 L192,136.8 L188.4,138.8 L182,139 L176.4,137.6 L174.5,132 L174.5,124 Z" fill="#ffff00" stroke="#0a3f12" stroke-width="1.8" stroke-linejoin="round"/><path d="M184.00,114.00 C185.50,112.00 189.33,111.25 192.00,110.00 C194.67,108.75 197.33,107.58 200.00,106.50 C202.67,105.42 205.50,104.42 208.00,103.50 C210.50,102.58 212.83,101.67 215.00,101.00 C217.17,100.33 219.67,99.33 221.00,99.50 C222.33,99.67 223.33,100.58 223.00,102.00 C222.67,103.42 220.50,105.92 219.00,108.00 C217.50,110.08 215.67,112.50 214.00,114.50 C212.33,116.50 210.67,118.33 209.00,120.00 C207.33,121.67 205.83,123.08 204.00,124.50 C202.17,125.92 200.00,127.42 198.00,128.50 C196.00,129.58 194.00,130.92 192.00,131.00 C190.00,131.08 187.50,130.50 186.00,129.00 C184.50,127.50 183.33,124.50 183.00,122.00 C182.67,119.50 182.50,116.00 184.00,114.00 Z" fill="#dcd200"/><path d="M190.00,116.00 C190.83,114.17 194.67,113.17 197.00,112.00 C199.33,110.83 201.67,109.92 204.00,109.00 C206.33,108.08 209.17,107.00 211.00,106.50 C212.83,106.00 214.50,105.42 215.00,106.00 C215.50,106.58 215.00,108.42 214.00,110.00 C213.00,111.58 210.83,113.83 209.00,115.50 C207.17,117.17 205.00,118.67 203.00,120.00 C201.00,121.33 198.83,123.00 197.00,123.50 C195.17,124.00 193.17,124.25 192.00,123.00 C190.83,121.75 189.17,117.83 190.00,116.00 Z" fill="#9a8c00"/><ellipse cx="200" cy="113" rx="1.3" ry="1" fill="#6a5a00"/><ellipse cx="206" cy="111" rx="1.2" ry="1" fill="#6a5a00"/><ellipse cx="195" cy="117" rx="1.2" ry="1" fill="#6a5a00"/><path d="M175.50,120.50 C176.50,119.38 179.08,119.38 181.00,119.30 C182.92,119.22 185.25,119.55 187.00,120.00 C188.75,120.45 190.25,121.08 191.50,122.00 C192.75,122.92 194.08,124.17 194.50,125.50 C194.92,126.83 194.50,128.67 194.00,130.00 C193.50,131.33 192.58,132.58 191.50,133.50 C190.42,134.42 188.92,135.12 187.50,135.50 C186.08,135.88 184.33,135.97 183.00,135.80 C181.67,135.63 180.58,135.22 179.50,134.50 C178.42,133.78 177.25,132.92 176.50,131.50 C175.75,130.08 175.17,127.83 175.00,126.00 C174.83,124.17 174.50,121.62 175.50,120.50 Z" fill="#ff0000"/><ellipse cx="177.6" cy="124.8" rx="2.4" ry="2.8" fill="#ff70ff"/><ellipse cx="179.2" cy="130" rx="2.2" ry="2.0" fill="#ff70ff"/><ellipse cx="215" cy="116" rx="2.2" ry="2.2" fill="#ffff00" stroke="#0a3f12" stroke-width="1.5"/><ellipse cx="206.4" cy="128.2" rx="1.8" ry="1.8" fill="#ffff00" stroke="#0a3f12" stroke-width="1.5"/><ellipse cx="214" cy="133.2" rx="3.1" ry="3.1" fill="#ffff00" stroke="#0a3f12" stroke-width="1.5"/><ellipse cx="206.4" cy="138.1" rx="2.7" ry="2.7" fill="#ffff00" stroke="#0a3f12" stroke-width="1.5"/><ellipse cx="224" cy="127.8" rx="1.3" ry="1.3" fill="#ffff00" stroke="#0a3f12" stroke-width="1.5"/><path d="M226.00,165.60 C227.33,164.77 231.67,165.27 234.00,166.00 C236.33,166.73 239.33,168.07 240.00,170.00 C240.67,171.93 239.67,176.60 238.00,177.60 C236.33,178.60 232.00,177.10 230.00,176.00 C228.00,174.90 226.67,172.73 226.00,171.00 C225.33,169.27 224.67,166.43 226.00,165.60 Z" fill="#dcf8dc"/><path d="M293.00,201.60 C293.50,199.77 298.57,199.60 301.00,200.00 C303.43,200.40 306.77,202.13 307.60,204.00 C308.43,205.87 307.60,210.03 306.00,211.20 C304.40,212.37 300.17,212.60 298.00,211.00 C295.83,209.40 292.50,203.43 293.00,201.60 Z" fill="#dcf8dc"/><path d="M314.90,196.06 C315.82,195.56 318.30,195.68 320.00,195.75 C321.70,195.82 324.18,195.86 325.10,196.49 C326.02,197.11 325.64,198.51 325.50,199.50 C325.36,200.49 325.17,201.94 324.25,202.44 C323.33,202.94 321.42,202.64 320.00,202.50 C318.58,202.36 316.67,202.21 315.75,201.59 C314.83,200.96 314.64,199.67 314.50,198.75 C314.36,197.83 313.98,196.56 314.90,196.06 Z" fill="#dcf8dc"/><path d="M296.79,206.45 C297.58,206.07 299.76,206.36 301.25,206.50 C302.74,206.64 304.96,206.80 305.71,207.30 C306.46,207.80 305.96,208.79 305.75,209.50 C305.54,210.21 305.23,211.18 304.44,211.55 C303.65,211.93 302.13,211.82 301.00,211.75 C299.87,211.68 298.39,211.62 297.64,211.12 C296.89,210.62 296.64,209.53 296.50,208.75 C296.36,207.97 296.00,206.82 296.79,206.45 Z" fill="#dcf8dc"/><path d="M324.50,228.50 C325.50,227.50 329.25,225.75 332.00,225.50 C334.75,225.25 338.75,226.00 341.00,227.00 C343.25,228.00 345.00,229.75 345.50,231.50 C346.00,233.25 345.25,236.50 344.00,237.50 C342.75,238.50 340.00,238.25 338.00,237.50 C336.00,236.75 334.00,234.00 332.00,233.00 C330.00,232.00 327.25,232.25 326.00,231.50 C324.75,230.75 323.50,229.50 324.50,228.50 Z" fill="#42e646"/><path d="M334.00,230.00 C334.58,228.92 339.33,229.33 341.00,230.00 C342.67,230.67 343.75,232.75 344.00,234.00 C344.25,235.25 343.58,237.08 342.50,237.50 C341.42,237.92 338.92,237.75 337.50,236.50 C336.08,235.25 333.42,231.08 334.00,230.00 Z" fill="#20ac2f"/><path d="M337.38,233.26 C337.54,233.05 338.43,233.18 339.00,233.25 C339.57,233.32 340.36,233.40 340.77,233.69 C341.19,233.98 341.36,234.57 341.50,235.00 C341.64,235.43 341.79,236.03 341.62,236.24 C341.46,236.45 340.93,236.32 340.50,236.25 C340.07,236.18 339.49,236.10 339.07,235.81 C338.66,235.52 338.28,234.93 338.00,234.50 C337.72,234.07 337.21,233.47 337.38,233.26 Z" fill="#13922a"/><path d="M419.00,219.60 C421.00,217.93 428.83,216.93 432.00,218.00 C435.17,219.07 437.33,223.53 438.00,226.00 C438.67,228.47 438.00,231.80 436.00,232.80 C434.00,233.80 428.67,232.80 426.00,232.00 C423.33,231.20 421.17,230.07 420.00,228.00 C418.83,225.93 417.00,221.27 419.00,219.60 Z" fill="#effdef"/><path d="M424.00,220.00 C424.33,218.67 427.50,218.33 429.00,219.00 C430.50,219.67 432.50,222.42 433.00,224.00 C433.50,225.58 433.00,228.00 432.00,228.50 C431.00,229.00 428.33,228.42 427.00,227.00 C425.67,225.58 423.67,221.33 424.00,220.00 Z" fill="#42e646"/><path d="M426.38,221.34 C426.38,220.96 427.07,221.00 427.50,221.00 C427.93,221.00 428.51,221.09 428.93,221.34 C429.34,221.59 429.72,222.07 430.00,222.50 C430.28,222.93 430.62,223.51 430.62,223.89 C430.62,224.26 430.28,224.54 430.00,224.75 C429.72,224.96 429.34,225.41 428.93,225.16 C428.51,224.91 427.93,223.89 427.50,223.25 C427.07,222.61 426.38,221.71 426.38,221.34 Z" fill="#13922a"/><path d="M408.12,215.79 C408.79,215.12 411.66,215.36 413.50,215.50 C415.34,215.64 417.93,215.76 419.18,216.64 C420.43,217.51 420.72,219.40 421.00,220.75 C421.28,222.10 421.54,224.05 420.88,224.71 C420.21,225.38 418.42,224.96 417.00,224.75 C415.58,224.54 413.62,224.31 412.38,223.44 C411.12,222.56 410.21,220.78 409.50,219.50 C408.79,218.22 407.46,216.45 408.12,215.79 Z" fill="#dcf8dc"/><path d="M359.90,223.06 C360.82,222.56 363.30,222.68 365.00,222.75 C366.70,222.82 369.18,222.86 370.10,223.49 C371.02,224.11 370.64,225.51 370.50,226.50 C370.36,227.49 370.17,228.94 369.25,229.44 C368.33,229.94 366.42,229.64 365.00,229.50 C363.58,229.36 361.67,229.21 360.75,228.59 C359.83,227.96 359.64,226.67 359.50,225.75 C359.36,224.83 358.98,223.56 359.90,223.06 Z" fill="#dcf8dc"/><path d="M361.06,248.34 C361.65,248.05 363.19,248.18 364.25,248.25 C365.31,248.32 366.90,248.39 367.44,248.76 C367.98,249.14 367.64,249.93 367.50,250.50 C367.36,251.07 367.17,251.87 366.59,252.16 C366.00,252.45 364.85,252.32 364.00,252.25 C363.15,252.18 362.03,252.11 361.49,251.74 C360.95,251.36 360.82,250.57 360.75,250.00 C360.68,249.43 360.48,248.63 361.06,248.34 Z" fill="#dcf8dc"/><path d="M353.90,182.68 C354.82,182.09 357.30,182.36 359.00,182.50 C360.70,182.64 363.18,182.78 364.10,183.53 C365.02,184.28 364.64,185.87 364.50,187.00 C364.36,188.13 364.17,189.74 363.25,190.32 C362.33,190.91 360.42,190.64 359.00,190.50 C357.58,190.36 355.67,190.22 354.75,189.47 C353.83,188.72 353.64,187.13 353.50,186.00 C353.36,184.87 352.98,183.26 353.90,182.68 Z" fill="#dcf8dc"/><path d="M358.60,247.38 C359.18,246.79 360.87,246.64 362.00,246.50 C363.13,246.36 364.73,246.03 365.40,246.53 C366.07,247.03 366.00,248.51 366.00,249.50 C366.00,250.49 365.98,251.89 365.40,252.47 C364.82,253.06 363.49,253.00 362.50,253.00 C361.51,253.00 360.12,252.97 359.45,252.47 C358.78,251.97 358.64,250.85 358.50,250.00 C358.36,249.15 358.02,247.96 358.60,247.38 Z" fill="#dcf8dc"/><path d="M100,190 L170,190 L170,280 L100,280 Z" fill="#dcf8dc"/><path d="M150.00,236.00 C151.67,235.67 154.67,237.33 156.00,240.00 C157.33,242.67 158.33,248.33 158.00,252.00 C157.67,255.67 156.00,259.33 154.00,262.00 C152.00,264.67 149.00,267.33 146.00,268.00 C143.00,268.67 138.67,267.67 136.00,266.00 C133.33,264.33 129.67,260.67 130.00,258.00 C130.33,255.33 135.33,252.67 138.00,250.00 C140.67,247.33 144.00,244.33 146.00,242.00 C148.00,239.67 148.33,236.33 150.00,236.00 Z" fill="#effdef"/><path d="M109.00,212.00 C109.33,209.50 110.50,206.00 112.00,205.00 C113.50,204.00 115.00,206.17 118.00,206.00 C121.00,205.83 126.33,204.83 130.00,204.00 C133.67,203.17 137.83,201.67 140.00,201.00 C142.17,200.33 141.67,199.17 143.00,200.00 C144.33,200.83 147.00,203.50 148.00,206.00 C149.00,208.50 149.17,211.67 149.00,215.00 C148.83,218.33 148.00,223.17 147.00,226.00 C146.00,228.83 144.67,230.17 143.00,232.00 C141.33,233.83 138.67,235.17 137.00,237.00 C135.33,238.83 134.83,240.67 133.00,243.00 C131.17,245.33 128.17,249.00 126.00,251.00 C123.83,253.00 121.67,254.17 120.00,255.00 C118.33,255.83 117.00,257.17 116.00,256.00 C115.00,254.83 114.17,251.00 114.00,248.00 C113.83,245.00 114.67,241.00 115.00,238.00 C115.33,235.00 116.50,232.17 116.00,230.00 C115.50,227.83 113.00,226.67 112.00,225.00 C111.00,223.33 110.50,222.17 110.00,220.00 C109.50,217.83 108.67,214.50 109.00,212.00 Z" fill="#42e646"/><path d="M105.00,212.00 C106.00,209.33 110.50,203.83 112.00,203.00 C113.50,202.17 113.00,205.50 114.00,207.00 C115.00,208.50 115.67,210.83 118.00,212.00 C120.33,213.17 125.17,213.33 128.00,214.00 C130.83,214.67 134.00,214.83 135.00,216.00 C136.00,217.17 135.17,219.83 134.00,221.00 C132.83,222.17 130.33,222.33 128.00,223.00 C125.67,223.67 122.00,224.83 120.00,225.00 C118.00,225.17 117.33,224.50 116.00,224.00 C114.67,223.50 113.67,222.83 112.00,222.00 C110.33,221.17 107.17,220.67 106.00,219.00 C104.83,217.33 104.00,214.67 105.00,212.00 Z" fill="#20ac2f"/><path d="M106.00,212.00 C107.17,210.50 112.17,208.67 114.00,209.00 C115.83,209.33 115.67,212.33 117.00,214.00 C118.33,215.67 120.50,217.83 122.00,219.00 C123.50,220.17 126.33,220.33 126.00,221.00 C125.67,221.67 121.83,222.83 120.00,223.00 C118.17,223.17 117.17,222.83 115.00,222.00 C112.83,221.17 108.50,219.67 107.00,218.00 C105.50,216.33 104.83,213.50 106.00,212.00 Z" fill="#13922a"/><ellipse cx="116.5" cy="220" rx="1.5" ry="1.2" fill="#0a3f12"/><ellipse cx="122" cy="232.5" rx="2.6" ry="3.4" fill="#20ac2f"/><path d="M113.00,240.00 C114.83,238.17 121.33,240.50 124.00,241.00 C126.67,241.50 128.50,242.00 129.00,243.00 C129.50,244.00 128.50,246.50 127.00,247.00 C125.50,247.50 121.67,245.17 120.00,246.00 C118.33,246.83 118.17,251.00 117.00,252.00 C115.83,253.00 113.67,254.00 113.00,252.00 C112.33,250.00 111.17,241.83 113.00,240.00 Z" fill="#20ac2f"/><path d="M113.38,244.60 C113.79,244.02 114.79,244.36 115.50,244.50 C116.21,244.64 117.38,244.78 117.62,245.45 C117.88,246.12 117.28,247.51 117.00,248.50 C116.72,249.49 116.34,250.82 115.92,251.40 C115.51,251.98 114.92,252.00 114.50,252.00 C114.08,252.00 113.62,252.07 113.38,251.40 C113.12,250.73 113.00,249.13 113.00,248.00 C113.00,246.87 112.96,245.18 113.38,244.60 Z" fill="#13922a"/><ellipse cx="129" cy="231" rx="1.3" ry="1.3" fill="#dcf8dc"/><ellipse cx="135" cy="232" rx="1.3" ry="1.3" fill="#dcf8dc"/><ellipse cx="131" cy="239" rx="1.3" ry="1.3" fill="#dcf8dc"/><ellipse cx="137" cy="212" rx="1.3" ry="1.3" fill="#dcf8dc"/><path d="M354.82,187.71 C355.66,187.00 357.94,187.18 359.50,187.25 C361.06,187.32 363.34,187.35 364.18,188.14 C365.01,188.93 364.64,190.72 364.50,192.00 C364.36,193.28 364.16,195.08 363.32,195.79 C362.49,196.50 360.77,196.32 359.50,196.25 C358.23,196.18 356.51,196.15 355.68,195.36 C354.84,194.57 354.64,192.78 354.50,191.50 C354.36,190.22 353.99,188.42 354.82,187.71 Z" fill="#effdef"/><path d="M357.27,221.36 C358.61,220.73 362.09,220.99 364.50,221.10 C366.91,221.21 370.39,221.31 371.73,222.04 C373.06,222.77 372.64,224.37 372.50,225.50 C372.36,226.63 372.21,228.22 370.88,228.84 C369.54,229.47 366.62,229.32 364.50,229.25 C362.38,229.18 359.46,229.15 358.12,228.41 C356.79,227.68 356.64,226.03 356.50,224.85 C356.36,223.67 355.94,221.98 357.27,221.36 Z" fill="#effdef"/><path d="M360.28,247.50 C360.89,247.03 362.46,247.18 363.55,247.25 C364.64,247.32 366.21,247.37 366.82,247.93 C367.43,248.49 367.26,249.72 367.20,250.60 C367.14,251.48 367.10,252.72 366.48,253.20 C365.87,253.67 364.49,253.52 363.50,253.45 C362.51,253.38 361.14,253.33 360.53,252.77 C359.92,252.21 359.89,250.98 359.85,250.10 C359.81,249.22 359.66,247.98 360.28,247.50 Z" fill="#dcf8dc"/><path d="M378.52,247.42 C379.07,247.05 380.51,247.18 381.50,247.25 C382.49,247.32 383.93,247.38 384.48,247.84 C385.02,248.31 384.82,249.33 384.75,250.05 C384.68,250.77 384.59,251.81 384.05,252.18 C383.51,252.56 382.35,252.39 381.50,252.30 C380.65,252.22 379.49,252.14 378.95,251.67 C378.41,251.20 378.32,250.21 378.25,249.50 C378.18,248.79 377.98,247.80 378.52,247.42 Z" fill="#effdef"/><path d="M405.98,223.41 C406.98,223.03 409.66,223.18 411.50,223.25 C413.34,223.32 416.02,223.38 417.02,223.83 C418.02,224.28 417.64,225.26 417.50,225.95 C417.36,226.64 417.18,227.62 416.18,228.00 C415.18,228.37 413.06,228.26 411.50,228.20 C409.94,228.14 407.82,228.10 406.82,227.66 C405.82,227.21 405.64,226.21 405.50,225.50 C405.36,224.79 404.98,223.78 405.98,223.41 Z" fill="#effdef"/><path d="M386.60,203.34 C387.23,203.05 388.87,203.18 390.00,203.25 C391.13,203.32 392.77,203.39 393.40,203.76 C394.02,204.14 393.82,204.93 393.75,205.50 C393.68,206.07 393.60,206.87 392.98,207.16 C392.35,207.45 390.99,207.32 390.00,207.25 C389.01,207.18 387.65,207.11 387.02,206.74 C386.40,206.36 386.32,205.57 386.25,205.00 C386.18,204.43 385.98,203.63 386.60,203.34 Z" fill="#effdef"/><path d="M250.00,288.00 C251.17,286.67 258.67,289.33 262.00,290.00 C265.33,290.67 267.00,291.33 270.00,292.00 C273.00,292.67 280.00,292.67 280.00,294.00 C280.00,295.33 274.17,299.33 270.00,300.00 C265.83,300.67 258.33,300.00 255.00,298.00 C251.67,296.00 248.83,289.33 250.00,288.00 Z" fill="#dcf8dc"/><path d="M169.05,148.60 C170.22,147.93 173.02,148.00 175.00,148.00 C176.98,148.00 179.78,147.93 180.95,148.60 C182.12,149.27 182.00,150.87 182.00,152.00 C182.00,153.13 182.12,154.73 180.95,155.40 C179.78,156.07 176.98,156.00 175.00,156.00 C173.02,156.00 170.22,156.07 169.05,155.40 C167.88,154.73 168.00,153.13 168.00,152.00 C168.00,150.87 167.88,149.27 169.05,148.60 Z" fill="#dcf8dc"/><path d="M178.76,149.88 C179.05,149.46 179.75,149.50 180.25,149.50 C180.75,149.50 181.45,149.46 181.74,149.88 C182.03,150.29 182.00,151.29 182.00,152.00 C182.00,152.71 182.03,153.71 181.74,154.12 C181.45,154.54 180.75,154.50 180.25,154.50 C179.75,154.50 179.05,154.54 178.76,154.12 C178.47,153.71 178.50,152.71 178.50,152.00 C178.50,151.29 178.47,150.29 178.76,149.88 Z" fill="#42e646"/></g><circle cx="232.8" cy="299" r="1.1" fill="#20ac2f"/><circle cx="241" cy="299.6" r="1.3" fill="#42e646"/><circle cx="305.6" cy="280.2" r="0.9" fill="#20ac2f"/><circle cx="312.6" cy="279.6" r="0.9" fill="#20ac2f"/><circle cx="333.6" cy="273.2" r="1.0" fill="#20ac2f"/><circle cx="163" cy="133" r="0.9" fill="#9fcf9f"/><circle cx="161.5" cy="145" r="1.1" fill="#42e646"/><circle cx="169.5" cy="158.5" r="1.1" fill="#20ac2f"/><circle cx="321" cy="280.5" r="1.1" fill="none" stroke="#aaa" stroke-width="0.6"/><circle cx="325" cy="284.5" r="1.2" fill="none" stroke="#aaa" stroke-width="0.6"/><circle cx="268.3" cy="276" r="0.7" fill="#bbb"/><circle cx="230.6" cy="334" r="1.6" fill="none" stroke="#9c9" stroke-width="0.7"/>
<g fill="none" stroke="#bcbcbc" stroke-width="0.85" stroke-linejoin="round">
<polyline points="88.6,122.2 96.6,121.3 104.6,119.5 110.6,114.4 116.4,109.9 118.9,106.5 127.5,103.2 133.3,103.5 139.3,104.7 142.8,105.3 148.3,107.7 154.6,110.5 162.0,112.9 168.7,115.0 175.4,119.8 176.0,125.9 177.0,129.5 181.4,134.6 184.0,140.1 184.0,145.5 183.3,148.2 191.3,148.5 191.0,152.1 198.7,155.2 202.5,159.7 202.5,164.2 206.0,163.0 213.7,164.8 224.5,173.6 231.2,177.8 238.5,183.2 245.6,188.4 251.3,192.9 258.3,195.9 264.7,199.9 271.1,198.0 281.3,200.2 287.7,199.6 293.4,205.0 296.6,211.0 303.0,211.3 309.4,215.0 305.5,218.6 310.9,218.0 319.2,216.2 326.6,226.1 323.7,229.2 328.5,231.6 335.5,235.8 341.3,235.2 347.0,234.6 352.1,242.4 354.0,248.8 360.1,256.0 362.6,263.9 365.2,269.9 363.9,275.1 358.2,275.4 353.4,278.4 355.6,284.1 349.5,289.6 347.3,293.8 348.0,298.6 354.0,299.5 360.7,299.5 363.6,296.2 370.0,288.0 376.3,283.5 376.3,276.3 378.9,272.3 387.5,269.3 393.6,270.2 394.8,264.5 395.5,254.8 389.4,251.8 384.3,248.8 374.8,244.9 376.0,240.6 379.5,233.7 385.0,225.5 390.7,221.6 398.0,222.5 405.1,226.1 418.8,229.2 422.0,235.2 427.4,239.7 434.1,242.7 437.0,238.2 438.2,232.2 432.2,224.9 424.2,220.1 421.0,217.1 409.8,212.5 400.3,208.0 386.6,202.6 374.8,199.0 367.7,196.8 356.2,187.5 360.4,185.1 364.5,179.9 359.4,177.8 355.0,178.4 346.0,178.7 338.1,178.7 326.6,176.3 317.6,172.7 307.8,165.7 302.0,162.1 293.7,153.7 291.2,147.6 288.6,141.0 282.9,131.0 279.7,127.4 270.1,124.4 260.2,118.6 249.4,114.1 242.7,108.0 240.1,103.2 240.8,94.8 248.1,87.2 244.0,82.7 240.1,79.1 242.7,73.6 251.9,70.6 259.3,67.6 267.6,65.5 275.2,65.2 280.0,61.5 287.7,66.1 286.1,67.9"/>
<polyline points="286.1,67.9 286.4,69.1 281.3,70.6 279.7,72.7 281.9,78.8 283.5,83.3 287.0,87.2 290.2,90.2 292.1,92.3 295.0,89.3 300.1,83.3 301.7,81.5 304.6,75.4 309.0,75.7 312.5,78.2 317.0,80.6 323.7,86.0 326.9,93.2 329.5,99.9 334.9,103.8 340.9,107.1 334.2,112.3 338.1,115.9 340.9,117.7 349.2,121.9 355.3,124.1 357.8,130.1 366.8,130.7 372.8,130.7 380.8,132.8 391.3,137.3 397.1,141.6 404.4,144.6 410.5,148.5 417.8,152.1 425.5,157.0 429.6,158.8 436.6,162.7 439.8,163.3 444.9,164.2"/>
<polyline points="148.6,145.8 150.2,152.1 149.9,155.2 152.4,159.1 153.4,165.7 152.1,173.3 148.3,180.5 147.6,185.4 144.4,188.7 142.8,192.9 140.6,194.7 137.1,192.3 131.4,189.9 128.5,185.4 125.0,183.8 127.2,178.7 122.7,177.2 123.4,173.3 121.5,169.4 125.0,165.7 124.7,161.2 127.8,159.1 133.9,157.3 138.7,154.6 145.1,155.8 146.3,149.1 148.6,145.8"/>
<polyline points="140.3,199.3 143.5,199.3 147.6,201.1 153.0,202.9 155.9,206.5 151.4,208.9 158.8,211.3 158.5,217.7 157.8,225.2 156.2,229.2 158.8,234.3 157.8,238.8 156.6,245.8 155.6,257.8 152.1,263.9 145.1,260.9 139.0,260.6 135.5,265.4 130.7,270.5 124.0,270.8 121.1,266.9 116.4,266.9 115.7,263.9 117.3,253.3 118.0,243.9 121.1,240.3 116.4,235.2 118.6,227.9 116.4,223.1 113.5,219.8 108.7,218.6 108.1,214.4 110.3,207.4 113.8,209.5 116.4,211.3 126.2,208.9 131.4,206.2 137.1,202.0 140.3,199.3"/>
<polyline points="347.6,288.9 344.4,288.0 334.6,288.9 328.5,292.6 318.9,292.3 307.8,296.2 295.6,295.9 285.4,297.7 279.1,294.1 274.9,293.2 272.7,290.5 264.7,294.1 259.9,295.3 254.5,291.7 250.3,295.3 247.1,296.5 244.9,303.1 250.0,307.7 258.3,309.8 265.7,312.2 272.7,315.8 279.7,318.8 287.0,322.8 293.1,324.3 303.0,325.5 308.7,330.6 314.1,333.9 322.1,335.8 331.0,336.7 330.1,331.8 336.2,325.2 333.9,320.7 331.7,316.7 329.8,312.2 333.3,305.3 336.2,301.6 339.7,297.1 344.4,291.4 347.6,288.9"/>
<polyline points="49.4,143.1 56.7,141.0 61.5,140.1 60.2,137.9 64.4,133.4 69.5,132.5 72.3,129.5 75.8,129.2 80.3,125.0 85.1,123.8 88.6,122.2"/>
<polyline points="49.4,328.8 71.7,328.8 96.3,330.3 116.4,329.7 127.5,328.8 141.9,321.3 163.3,319.1 173.8,325.8 178.6,331.8 186.5,331.8 200.9,324.9 199.3,331.8 192.9,343.9 186.5,348.4 183.3,357.5 180.2,363.5"/>
<polyline points="122.7,329.1 118.0,331.8 116.4,339.4 114.8,351.5 113.2,363.5"/>
<polyline points="46.2,29.8 55.1,24.7 62.1,20.8 70.1,16.2 73.3,14.1 71.7,11.7 76.5,10.2 82.9,12.0 87.7,9.6 90.2,7.2"/>
<polyline points="46.2,43.4 55.1,42.2 65.3,42.8 67.2,47.0 65.3,51.6 67.9,54.0 71.4,55.5 73.0,57.9"/>
<polyline points="73.0,57.9 67.2,60.6 65.3,64.0 67.9,65.2 71.7,70.6 74.9,72.7 70.1,78.2 63.7,81.2 59.6,82.7 62.8,87.8 70.1,90.2 71.7,94.2 70.1,97.2 66.9,99.9 68.5,103.2 73.3,109.0 82.9,112.0 92.4,110.8 94.0,114.4 89.2,118.9 88.6,122.2"/>
<polyline points="73.0,57.9 77.1,59.4 89.2,56.1 92.8,56.1 99.5,57.6 104.6,53.4 108.7,50.1 106.8,47.3 112.5,44.0 116.4,41.6 118.3,46.4 122.7,51.0 126.2,52.5 129.1,52.5 132.3,55.5 131.0,56.4 133.3,59.4 136.5,60.6 138.1,58.5 136.5,54.6 140.3,50.4 143.5,46.4 146.0,40.4 149.9,41.0 153.0,46.4 157.8,46.4 165.8,44.0 170.6,47.9 172.2,48.6 173.8,43.4 168.4,40.4 168.4,36.2 173.8,35.6 177.0,38.0 181.8,38.3 182.4,36.5 181.8,31.9 182.4,29.8"/>
<polyline points="182.4,29.8 184.0,30.1 191.3,31.3 197.7,32.2 204.1,26.8 215.2,25.3 223.2,26.2 231.2,23.8 237.6,22.9 239.2,28.3 245.6,35.0 255.1,35.9 263.1,37.4 275.9,38.9 285.7,39.8"/>
<polyline points="285.7,39.8 280.6,43.4 276.8,44.9 283.8,50.1 279.1,54.0 282.9,57.3 281.3,60.0 282.2,61.8 288.6,63.7 291.8,66.7 288.0,67.6 286.1,67.9"/>
<polyline points="182.4,29.8 180.2,25.9 170.6,29.8 165.8,28.0 163.3,24.7 154.6,23.8 152.1,22.3 152.4,17.1 154.6,10.2 157.8,8.7"/>
<polyline points="150.5,23.8 152.1,22.3"/>
<polyline points="157.8,8.7 167.4,10.8 173.8,16.2 181.8,8.7 196.1,10.8 202.5,13.2 218.4,7.8 237.6,6.6 247.1,5.7 263.1,11.1 264.7,4.2"/>
<polyline points="285.7,39.8 295.0,41.0 304.6,42.5 312.5,44.0 320.5,40.4 326.9,36.8 339.7,35.9 347.6,34.4 358.8,35.0 362.0,29.8"/>
<polyline points="362.0,29.8 373.2,25.3 374.8,13.2 379.5,7.2"/>
<polyline points="362.0,29.8 368.4,29.2 371.6,35.9 377.9,41.3"/>
<polyline points="281.9,71.2 291.8,72.1 298.2,71.2 307.8,71.2 314.1,67.0 320.5,71.2 326.9,70.6 336.5,72.1 339.7,66.7 336.5,63.1 342.8,60.6 349.2,60.0 350.8,54.0 346.0,49.5 358.8,46.4 368.4,44.3 377.9,41.3"/>
<polyline points="377.9,41.3 387.5,44.3 400.3,55.5 409.8,57.6 419.4,61.5 435.4,63.1 448.1,58.5"/>
<polyline points="350.8,79.7 358.8,79.1 368.4,85.7 376.3,79.7 387.5,78.2 397.1,81.2 406.6,82.1 416.2,83.3 425.8,82.7 438.5,84.2 448.1,84.2"/>
<polyline points="350.8,79.7 352.4,87.2 350.2,93.2 358.8,97.8 362.0,102.3 365.2,109.9 371.6,114.4 377.9,120.4 390.7,129.5 400.3,132.5 405.1,140.1 409.8,144.6 410.5,148.5"/>
<polyline points="413.0,147.6 422.6,153.7 429.0,156.7 437.0,159.1 436.6,162.7"/>
<polyline points="437.0,159.1 441.7,156.7 446.5,152.1"/>
<polyline points="170.6,153.7 175.4,151.5 181.1,150.0 181.1,153.7 177.0,154.3 170.6,153.7"/>
</g>
<g fill="none" stroke="#8c8c8c" stroke-width="0.75" stroke-linejoin="round" opacity="0.62">
<polyline points="94.0,114.4 103.6,111.4 111.6,105.3 122.7,100.8 130.7,99.3 137.1,97.8 141.9,97.8 151.4,102.3 157.8,104.4 162.6,108.3 167.4,112.9 168.7,115.0"/>
<polyline points="126.2,52.5 122.7,61.5 125.9,70.6 129.1,79.7 132.3,85.7 141.9,94.8 141.9,97.8"/>
<polyline points="71.7,70.6 78.1,72.1 89.2,69.1 100.4,67.6 99.5,57.6"/>
<polyline points="141.9,93.2 151.4,84.2 164.2,82.7 183.3,85.7 199.3,85.7 212.1,87.2"/>
<polyline points="181.8,38.9 186.5,46.4 183.3,55.5 186.5,67.6 189.7,73.6 192.9,79.7 205.7,82.7 212.1,87.2"/>
<polyline points="186.5,61.5 196.1,64.6 205.7,61.5 215.2,57.0 221.6,55.5 228.0,49.5 234.4,43.4 245.6,35.0"/>
<polyline points="254.2,35.9 250.3,43.4 245.6,52.5 250.3,58.5 258.3,63.1 266.3,66.1"/>
<polyline points="212.1,87.2 224.8,87.2 237.6,88.7 244.0,91.7"/>
<polyline points="157.8,104.4 167.4,108.3 177.0,108.3 186.5,111.4 196.1,112.9 205.7,112.9 215.2,115.9 221.6,118.9 231.2,120.4 237.6,123.5 240.8,121.9 247.1,120.4 255.1,117.4"/>
<polyline points="228.0,150.6 223.2,152.1 218.4,158.2 213.7,164.8"/>
<polyline points="244.0,118.9 245.2,116.2 247.1,117.1 247.5,118.9 245.9,119.2 244.0,118.9"/>
<polyline points="237,122 239,124 242,128 250,130 255,133 256,136 259,144 262,149 268,151 270,153"/>
<polyline points="270,153 274,156 270,160 268,164 269,170 272,172 266,174 264,176 268,179 274,182 282,184 290,185 295,188 296,192 294,194 292,198 290,202 289,210"/>
<polyline points="270,153 280,152 292,149 295,148.5"/>
<polyline points="238,158 242,161 245,164 250,163 256,161 260,159 265,157 269,156 274,156"/>
<polyline points="233,124 233,130 232,136 231,142 232,148 236,154 238,158"/>
<polyline points="290,185 296,184 302,180 305,179 312,180 316,177 319,175"/>
<polyline points="320,176 328,180 331,182 330,186 326,190 330,194 334,200 338,203 344,204"/>
<polyline points="290,192 298,194 306,195 316,194 324,193 326,190"/>
<polyline points="334,200 338,206 339,212 338,216 342,220 345,224 348,228 350,232 352,236"/>
<polyline points="344,204 354,203 358,204 361,207 366,209 370,210 376,212 382,216 384,222 382,228"/>
<polyline points="352,236 360,238 370,237 374,234 382,234 386,230"/>
</g>
<g fill="none" stroke="#8fdc8f" stroke-width="1.0" stroke-linejoin="round">
<polyline points="288.6,141.0 282.9,131.0 279.7,127.4 270.1,124.4 260.2,118.6 249.4,114.1"/>
<polyline points="434.1,242.7 437.0,238.2 438.2,232.2 432.2,224.9 424.2,220.1 421.0,217.1 409.8,212.5 400.3,208.0 386.6,202.6 374.8,199.0 367.7,196.8 356.2,187.5 360.4,185.1 364.5,179.9 359.4,177.8 355.0,178.4 346.0,178.7 338.1,178.7 326.6,176.3 317.6,172.7 307.8,165.7 302.0,162.1 293.7,153.7 291.2,147.6 288.6,141.0"/>
<polyline points="376.0,240.6 379.5,233.7 385.0,225.5 390.7,221.6 398.0,222.5"/>
<polyline points="224.5,173.6 231.2,177.8 238.5,183.2 245.6,188.4 251.3,192.9 258.3,195.9 264.7,199.9 271.1,198.0 281.3,200.2"/>
<polyline points="295.6,295.9 285.4,297.7 279.1,294.1 274.9,293.2 272.7,290.5 264.7,294.1 259.9,295.3 254.5,291.7"/>
<polyline points="176.0,125.9 177.0,129.5 181.4,134.6 184.0,140.1 184.0,145.5"/>
</g>
</g>
<rect x="55.3" y="10" width="383" height="347.8" fill="none" stroke="#bdbdbd" stroke-width="1.1"/>
<g stroke="#b4b4b4" stroke-width="0.8"><line x1="55" y1="357.5" x2="59" y2="357.5"/><line x1="439" y1="357.5" x2="435" y2="357.5"/><line x1="55" y1="327.3" x2="59" y2="327.3"/><line x1="439" y1="327.3" x2="435" y2="327.3"/><line x1="55" y1="297.1" x2="59" y2="297.1"/><line x1="439" y1="297.1" x2="435" y2="297.1"/><line x1="55" y1="266.9" x2="59" y2="266.9"/><line x1="439" y1="266.9" x2="435" y2="266.9"/><line x1="55" y1="236.7" x2="59" y2="236.7"/><line x1="439" y1="236.7" x2="435" y2="236.7"/><line x1="55" y1="206.5" x2="59" y2="206.5"/><line x1="439" y1="206.5" x2="435" y2="206.5"/><line x1="55" y1="176.3" x2="59" y2="176.3"/><line x1="439" y1="176.3" x2="435" y2="176.3"/><line x1="55" y1="146.1" x2="59" y2="146.1"/><line x1="439" y1="146.1" x2="435" y2="146.1"/><line x1="55" y1="115.9" x2="59" y2="115.9"/><line x1="439" y1="115.9" x2="435" y2="115.9"/><line x1="55" y1="85.7" x2="59" y2="85.7"/><line x1="439" y1="85.7" x2="435" y2="85.7"/><line x1="55" y1="55.5" x2="59" y2="55.5"/><line x1="439" y1="55.5" x2="435" y2="55.5"/><line x1="55" y1="25.3" x2="59" y2="25.3"/><line x1="439" y1="25.3" x2="435" y2="25.3"/><line x1="71.7" y1="358" x2="71.7" y2="354"/><line x1="71.7" y1="10" x2="71.7" y2="14"/><line x1="103.6" y1="358" x2="103.6" y2="354"/><line x1="103.6" y1="10" x2="103.6" y2="14"/><line x1="135.5" y1="358" x2="135.5" y2="354"/><line x1="135.5" y1="10" x2="135.5" y2="14"/><line x1="167.4" y1="358" x2="167.4" y2="354"/><line x1="167.4" y1="10" x2="167.4" y2="14"/><line x1="199.3" y1="358" x2="199.3" y2="354"/><line x1="199.3" y1="10" x2="199.3" y2="14"/><line x1="231.2" y1="358" x2="231.2" y2="354"/><line x1="231.2" y1="10" x2="231.2" y2="14"/><line x1="263.1" y1="358" x2="263.1" y2="354"/><line x1="263.1" y1="10" x2="263.1" y2="14"/><line x1="295.0" y1="358" x2="295.0" y2="354"/><line x1="295.0" y1="10" x2="295.0" y2="14"/><line x1="326.9" y1="358" x2="326.9" y2="354"/><line x1="326.9" y1="10" x2="326.9" y2="14"/><line x1="358.8" y1="358" x2="358.8" y2="354"/><line x1="358.8" y1="10" x2="358.8" y2="14"/><line x1="390.7" y1="358" x2="390.7" y2="354"/><line x1="390.7" y1="10" x2="390.7" y2="14"/><line x1="422.6" y1="358" x2="422.6" y2="354"/><line x1="422.6" y1="10" x2="422.6" y2="14"/></g>
<g font-size="9" fill="#2a2a2a" stroke="#2a2a2a" stroke-width="0.3"><text x="51.3" y="360.5" text-anchor="end">36N</text><text x="51.3" y="330.3" text-anchor="end">37N</text><text x="51.3" y="300.1" text-anchor="end">38N</text><text x="51.3" y="269.9" text-anchor="end">39N</text><text x="51.3" y="239.7" text-anchor="end">40N</text><text x="51.3" y="209.5" text-anchor="end">41N</text><text x="51.3" y="179.3" text-anchor="end">42N</text><text x="51.3" y="149.1" text-anchor="end">43N</text><text x="51.3" y="118.9" text-anchor="end">44N</text><text x="51.3" y="88.7" text-anchor="end">45N</text><text x="51.3" y="58.5" text-anchor="end">46N</text><text x="51.3" y="28.3" text-anchor="end">47N</text><text x="71.1" y="370.2" text-anchor="middle">7E</text><text x="103.0" y="370.2" text-anchor="middle">8E</text><text x="134.9" y="370.2" text-anchor="middle">9E</text><text x="166.8" y="370.2" text-anchor="middle">10E</text><text x="198.7" y="370.2" text-anchor="middle">11E</text><text x="230.6" y="370.2" text-anchor="middle">12E</text><text x="262.5" y="370.2" text-anchor="middle">13E</text><text x="294.4" y="370.2" text-anchor="middle">14E</text><text x="326.3" y="370.2" text-anchor="middle">15E</text><text x="358.2" y="370.2" text-anchor="middle">16E</text><text x="390.1" y="370.2" text-anchor="middle">17E</text><text x="422.0" y="370.2" text-anchor="middle">18E</text></g>
<text x="247" y="382.2" font-size="10.4" fill="#2a2a2a" stroke="#2a2a2a" stroke-width="0.2" text-anchor="middle">Longitute</text>
<text transform="translate(28.6,184.8) rotate(-90)" font-size="10" fill="#2a2a2a" stroke="#2a2a2a" stroke-width="0.2" text-anchor="middle">Latitude</text>
<rect x="444" y="10.00" width="10" height="2.30" fill="#660066"/><rect x="444" y="12.00" width="10" height="67.80" fill="#aa00aa"/><rect x="444" y="79.50" width="10" height="70.10" fill="#ee00ee"/><rect x="444" y="149.30" width="10" height="70.50" fill="#ff88ff"/><rect x="444" y="219.50" width="10" height="17.40" fill="#990000"/><rect x="444" y="236.60" width="10" height="17.60" fill="#bb0000"/><rect x="444" y="253.90" width="10" height="18.20" fill="#dd0000"/><rect x="444" y="271.80" width="10" height="18.50" fill="#ff0000"/><rect x="444" y="290.00" width="10" height="7.30" fill="#505000"/><rect x="444" y="297.00" width="10" height="7.30" fill="#777700"/><rect x="444" y="304.00" width="10" height="7.30" fill="#999900"/><rect x="444" y="311.00" width="10" height="7.30" fill="#bbbb00"/><rect x="444" y="318.00" width="10" height="7.30" fill="#dddd00"/><rect x="444" y="325.00" width="10" height="7.30" fill="#ffff00"/><rect x="444" y="332.00" width="10" height="6.00" fill="#053a0f"/><rect x="444" y="337.70" width="10" height="4.30" fill="#088a18"/><rect x="444" y="341.70" width="10" height="3.10" fill="#0a9420"/><rect x="444" y="344.50" width="10" height="3.70" fill="#10a822"/><rect x="444" y="347.90" width="10" height="4.30" fill="#30e038"/><rect x="444" y="351.90" width="10" height="3.40" fill="#d6f7d6"/><rect x="444" y="355.00" width="10" height="3.60" fill="#ecfcec"/>
<rect x="444" y="10" width="10" height="348.3" fill="none" stroke="#bbb" stroke-width="0.6"/>
<line x1="452" y1="358.3" x2="454" y2="358.3" stroke="#555" stroke-width="0.6"/><text x="457" y="362.1" font-size="8.6" fill="#333" stroke="#333" stroke-width="0.2">0</text><line x1="452" y1="323.5" x2="454" y2="323.5" stroke="#555" stroke-width="0.6"/><text x="457" y="327.3" font-size="8.6" fill="#333" stroke="#333" stroke-width="0.2">50</text><line x1="452" y1="288.6" x2="454" y2="288.6" stroke="#555" stroke-width="0.6"/><text x="457" y="292.4" font-size="8.6" fill="#333" stroke="#333" stroke-width="0.2">100</text><line x1="452" y1="253.8" x2="454" y2="253.8" stroke="#555" stroke-width="0.6"/><text x="457" y="257.6" font-size="8.6" fill="#333" stroke="#333" stroke-width="0.2">150</text><line x1="452" y1="219.0" x2="454" y2="219.0" stroke="#555" stroke-width="0.6"/><text x="457" y="222.8" font-size="8.6" fill="#333" stroke="#333" stroke-width="0.2">200</text><line x1="452" y1="184.2" x2="454" y2="184.2" stroke="#555" stroke-width="0.6"/><text x="457" y="188.0" font-size="8.6" fill="#333" stroke="#333" stroke-width="0.2">250</text><line x1="452" y1="149.3" x2="454" y2="149.3" stroke="#555" stroke-width="0.6"/><text x="457" y="153.1" font-size="8.6" fill="#333" stroke="#333" stroke-width="0.2">300</text><line x1="452" y1="114.5" x2="454" y2="114.5" stroke="#555" stroke-width="0.6"/><text x="457" y="118.3" font-size="8.6" fill="#333" stroke="#333" stroke-width="0.2">350</text><line x1="452" y1="79.7" x2="454" y2="79.7" stroke="#555" stroke-width="0.6"/><text x="457" y="83.5" font-size="8.6" fill="#333" stroke="#333" stroke-width="0.2">400</text><line x1="452" y1="44.8" x2="454" y2="44.8" stroke="#555" stroke-width="0.6"/><text x="457" y="48.6" font-size="8.6" fill="#333" stroke="#333" stroke-width="0.2">450</text><line x1="452" y1="10.0" x2="454" y2="10.0" stroke="#555" stroke-width="0.6"/><text x="457" y="13.8" font-size="8.6" fill="#333" stroke="#333" stroke-width="0.2">500</text>
<text transform="translate(484,183.8) rotate(-90)" font-size="8" font-weight="bold" fill="#111" text-anchor="middle">[mm]</text>
<line x1="3" y1="391.5" x2="485" y2="391.5" stroke="#f0f0f0" stroke-width="1"/>
<line x1="485.5" y1="391.5" x2="485.5" y2="550" stroke="#f3f3f3" stroke-width="1"/>
<line x1="66.7" y1="404" x2="439.5" y2="404" stroke="#a0a0a0" stroke-width="1"/><line x1="66.7" y1="518.5" x2="439.5" y2="518.5" stroke="#a0a0a0" stroke-width="1"/><line x1="132" y1="404" x2="132" y2="407" stroke="#888" stroke-width="0.8"/><line x1="132" y1="518.5" x2="132" y2="515.5" stroke="#888" stroke-width="0.8"/><line x1="223.2" y1="404" x2="223.2" y2="407" stroke="#888" stroke-width="0.8"/><line x1="223.2" y1="518.5" x2="223.2" y2="515.5" stroke="#888" stroke-width="0.8"/><line x1="314.4" y1="404" x2="314.4" y2="407" stroke="#888" stroke-width="0.8"/><line x1="314.4" y1="518.5" x2="314.4" y2="515.5" stroke="#888" stroke-width="0.8"/><line x1="405.6" y1="404" x2="405.6" y2="407" stroke="#888" stroke-width="0.8"/><line x1="405.6" y1="518.5" x2="405.6" y2="515.5" stroke="#888" stroke-width="0.8"/><rect x="347.34" y="516.6" width="2.4" height="1.90" fill="#0072BD"/><rect x="351.17" y="514.5" width="2.4" height="4.00" fill="#0072BD"/><rect x="355.00" y="487" width="2.4" height="31.50" fill="#0072BD"/><rect x="358.83" y="467.4" width="2.4" height="51.10" fill="#0072BD"/><rect x="362.66" y="463.2" width="2.4" height="55.30" fill="#0072BD"/><rect x="366.49" y="434.8" width="2.4" height="83.70" fill="#0072BD"/><rect x="370.32" y="451.4" width="2.4" height="67.10" fill="#0072BD"/><rect x="374.15" y="455" width="2.4" height="63.50" fill="#0072BD"/><rect x="377.98" y="416" width="2.4" height="102.50" fill="#0072BD"/><rect x="381.81" y="407.9" width="2.4" height="110.60" fill="#0072BD"/><rect x="385.64" y="454" width="2.4" height="64.50" fill="#0072BD"/><rect x="389.47" y="487" width="2.4" height="31.50" fill="#0072BD"/><rect x="393.30" y="517" width="2.4" height="1.50" fill="#0072BD"/><rect x="397.13" y="514.6" width="2.4" height="3.90" fill="#0072BD"/><rect x="400.96" y="512.2" width="2.4" height="6.30" fill="#0072BD"/><rect x="404.79" y="512.2" width="2.4" height="6.30" fill="#0072BD"/><rect x="101.3" y="512.2" width="2" height="6.3" fill="#0072BD"/><line x1="66.7" y1="518.2" x2="439.5" y2="518.2" stroke="#0072BD" stroke-width="0.7" opacity="0.8"/><polyline points="71.4,518.2 100,517.3 200,517.0 300,516.8 345,516.3 352,515.0 356.4,507 361.8,491.6 368.4,474.2 374.9,459 379.3,443.6 382.5,428.4 385.8,415.3 390.2,408.7 396.7,407.6 405.5,404.8 436,404.8" fill="none" stroke="#D95319" stroke-width="2" stroke-linejoin="round"/><line x1="66.7" y1="404" x2="66.7" y2="518.5" stroke="#0072BD" stroke-width="0.8" opacity="0.65"/><line x1="439.5" y1="404" x2="439.5" y2="518.5" stroke="#D95319" stroke-width="0.8" opacity="0.65"/><line x1="66.7" y1="518.5" x2="69.7" y2="518.5" stroke="#0072BD" stroke-width="0.8"/><text x="62" y="522.2" font-size="10.3" fill="#0072BD" text-anchor="end">0</text><line x1="66.7" y1="489.9" x2="69.7" y2="489.9" stroke="#0072BD" stroke-width="0.8"/><text x="62" y="493.6" font-size="10.3" fill="#0072BD" text-anchor="end">10</text><line x1="66.7" y1="461.2" x2="69.7" y2="461.2" stroke="#0072BD" stroke-width="0.8"/><text x="62" y="464.9" font-size="10.3" fill="#0072BD" text-anchor="end">20</text><line x1="66.7" y1="432.6" x2="69.7" y2="432.6" stroke="#0072BD" stroke-width="0.8"/><text x="62" y="436.3" font-size="10.3" fill="#0072BD" text-anchor="end">30</text><line x1="66.7" y1="404.0" x2="69.7" y2="404.0" stroke="#0072BD" stroke-width="0.8"/><text x="62" y="407.7" font-size="10.3" fill="#0072BD" text-anchor="end">40</text><line x1="439.5" y1="518.5" x2="436.5" y2="518.5" stroke="#D95319" stroke-width="0.8"/><text x="444.5" y="522.2" font-size="10.3" fill="#D95319">0</text><line x1="439.5" y1="495.6" x2="436.5" y2="495.6" stroke="#D95319" stroke-width="0.8"/><text x="444.5" y="499.3" font-size="10.3" fill="#D95319">50</text><line x1="439.5" y1="472.7" x2="436.5" y2="472.7" stroke="#D95319" stroke-width="0.8"/><text x="444.5" y="476.4" font-size="10.3" fill="#D95319">100</text><line x1="439.5" y1="449.8" x2="436.5" y2="449.8" stroke="#D95319" stroke-width="0.8"/><text x="444.5" y="453.5" font-size="10.3" fill="#D95319">150</text><line x1="439.5" y1="426.9" x2="436.5" y2="426.9" stroke="#D95319" stroke-width="0.8"/><text x="444.5" y="430.6" font-size="10.3" fill="#D95319">200</text><line x1="439.5" y1="404.0" x2="436.5" y2="404.0" stroke="#D95319" stroke-width="0.8"/><text x="444.5" y="407.7" font-size="10.3" fill="#D95319">250</text><text x="132" y="533.6" font-size="10.6" fill="#262626" text-anchor="middle">Sep 09, 12:00</text><text x="223.2" y="533.6" font-size="10.6" fill="#262626" text-anchor="middle">Sep 09, 18:00</text><text x="314.4" y="533.6" font-size="10.6" fill="#262626" text-anchor="middle">Sep 10, 00:00</text><text x="405.6" y="533.6" font-size="10.6" fill="#262626" text-anchor="middle">Sep 10, 06:00</text><text x="416.8" y="546.5" font-size="10.4" fill="#262626" text-anchor="middle">2017</text><text x="253.7" y="547" font-size="11.2" fill="#262626" text-anchor="middle">Date</text><text transform="translate(43.5,461) rotate(-90)" font-size="11.6" fill="#0072BD" text-anchor="middle">Rain rate [mm/15 min]</text><text transform="translate(480.2,462) rotate(-90)" font-size="11.5" fill="#D95319" text-anchor="middle">Cumulated rainfall [mm]</text>
<line x1="178.6" y1="129" x2="168.4" y2="387" stroke="#4677c6" stroke-width="1.7"/>
<polygon points="165.8,385.2 170.8,385.4 168.1,391" fill="#4677c6"/>
</svg></body></html>
